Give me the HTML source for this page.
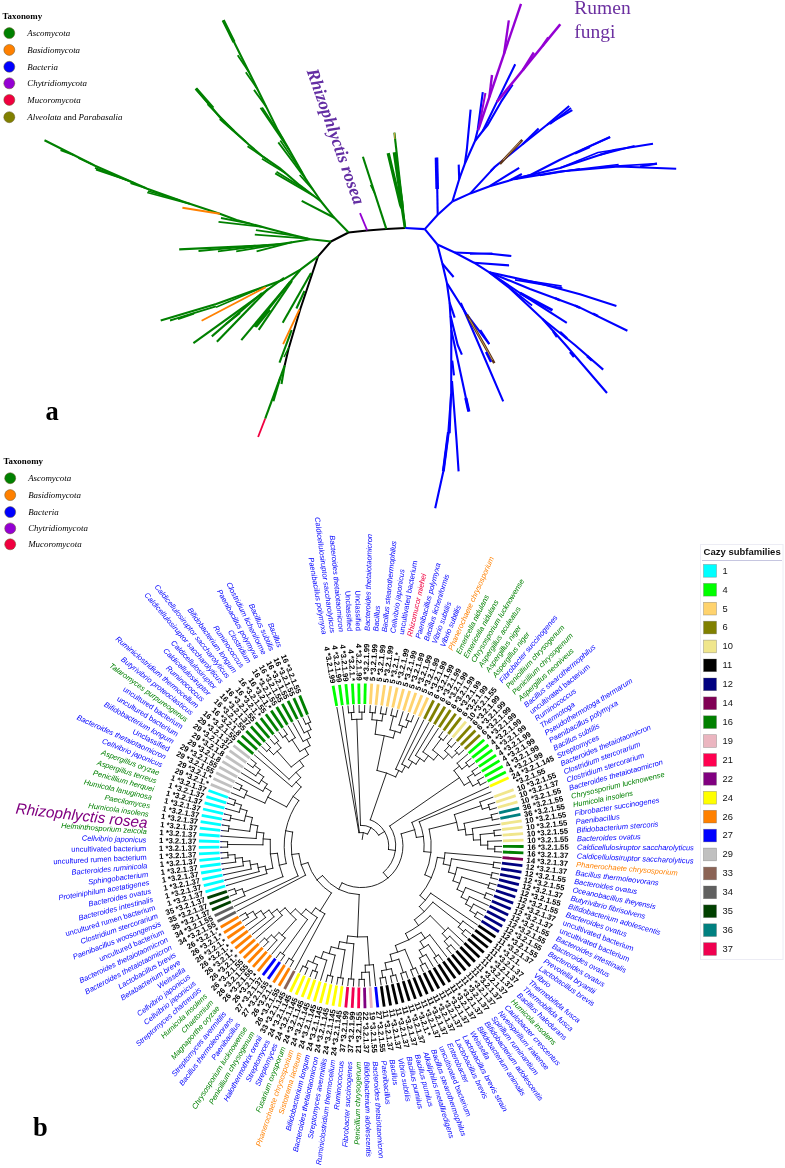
<!DOCTYPE html>
<html><head><meta charset="utf-8"><title>Phylogenetic trees</title>
<style>html,body{margin:0;padding:0;background:#fff}svg{display:block}</style>
</head><body>
<svg width="785" height="1168" viewBox="0 0 785 1168">
<rect width="785" height="1168" fill="#fff"/>
<g fill="none" stroke-linecap="butt" stroke-linejoin="round">
<path d="M284.6 365.7L288.5 349L300.4 308.8L318 256.4L331 241.5L348.5 232.5L367.2 230.4L386.3 228.9L405.3 228" stroke="#000000" stroke-width="2"/>
<path d="M367.2 230.4L360 213.1" stroke="#9400d3" stroke-width="1.8"/>
<path d="M386.3 228.9L362.9 156.8" stroke="#008000" stroke-width="2.1"/>
<path d="M375 194L370.5 185" stroke="#008000" stroke-width="1.5"/>
<path d="M405.1 228.1L394.4 132.7" stroke="#008000" stroke-width="2.1"/>
<path d="M401.8 208L400.6 204.9L388.2 153.2" stroke="#008000" stroke-width="3.3"/>
<path d="M402.2 208L401.5 201.3L394.4 152.3" stroke="#008000" stroke-width="3.5"/>
<path d="M405.1 228.1L401.8 207" stroke="#008000" stroke-width="2.7"/>
<path d="M394.9 139L394.4 132.7" stroke="#c8a040" stroke-width="1.2"/>
<path d="M348.4 232.3L334.3 217.8L321.1 201.5L305.8 179.1L288.5 148.5L277.8 130.1L223.2 20.2" stroke="#008000" stroke-width="2.1"/>
<path d="M234 42L223.2 20.2" stroke="#008000" stroke-width="3.2"/>
<path d="M237.7 55.3L248.9 72" stroke="#008000" stroke-width="1.8"/>
<path d="M245.8 72.2L257.4 89" stroke="#008000" stroke-width="1.8"/>
<path d="M254 89.9L266.3 107" stroke="#008000" stroke-width="1.8"/>
<path d="M260.5 107.8L289.3 150" stroke="#008000" stroke-width="1.8"/>
<path d="M262.1 107.4L283.6 140" stroke="#008000" stroke-width="1.8"/>
<path d="M278.3 142.4L307.1 181" stroke="#008000" stroke-width="1.8"/>
<path d="M280.3 140.4L301.8 172" stroke="#008000" stroke-width="1.8"/>
<path d="M299.7 175L313.2 190" stroke="#008000" stroke-width="1.8"/>
<path d="M301.7 200.9L334.3 217.8" stroke="#008000" stroke-width="2.1"/>
<path d="M321.1 201.5L299.7 185.2L279.3 167.9L263 156.7L248.7 144.5L222.2 120L195.9 88.5" stroke="#008000" stroke-width="2.1"/>
<path d="M213 108L195.9 88.5" stroke="#008000" stroke-width="3.2"/>
<path d="M275.2 173.4L313.9 196" stroke="#008000" stroke-width="1.8"/>
<path d="M276.5 171.8L306 190" stroke="#008000" stroke-width="1.8"/>
<path d="M262 158.8L285.3 173" stroke="#008000" stroke-width="1.8"/>
<path d="M247.5 146.2L267.8 160" stroke="#008000" stroke-width="1.8"/>
<path d="M207.5 104.2L234.1 131" stroke="#008000" stroke-width="1.8"/>
<path d="M219.7 119.1L246 142" stroke="#008000" stroke-width="1.8"/>
<path d="M331 241.5L310.6 239.2" stroke="#008000" stroke-width="2.1"/>
<path d="M310.6 239.2L293.6 235.2L268 228.5L236.5 219.9L219.8 213.7L182.9 201.4L147.2 188.7L95 165.8L44.5 140.3" stroke="#008000" stroke-width="2.1"/>
<path d="M95 167.8L135 183.3" stroke="#008000" stroke-width="1.8"/>
<path d="M96 169.6L128 180.3" stroke="#008000" stroke-width="1.8"/>
<path d="M147.2 192.5L190 203.8" stroke="#008000" stroke-width="1.8"/>
<path d="M148 191L180 200.4" stroke="#008000" stroke-width="1.8"/>
<path d="M60.5 150.2L74 155.2" stroke="#008000" stroke-width="1.8"/>
<path d="M78.4 158L92 164.3" stroke="#008000" stroke-width="1.8"/>
<path d="M130.5 183.2L146 188.2" stroke="#008000" stroke-width="1.8"/>
<path d="M182.4 207.8L219.8 213.7" stroke="#ff8000" stroke-width="2"/>
<path d="M218.5 221.8L262 226.9" stroke="#008000" stroke-width="1.8"/>
<path d="M221 218L250 223.6" stroke="#008000" stroke-width="1.8"/>
<path d="M255.9 230.1L296 235.8" stroke="#008000" stroke-width="1.8"/>
<path d="M254.8 234.6L308 238.6" stroke="#008000" stroke-width="1.8"/>
<path d="M310.6 239.2L292.3 242.2L280.1 244L267.8 245L255.6 245.7L179.2 249.4" stroke="#008000" stroke-width="2.1"/>
<path d="M255.6 245.7L198.5 251" stroke="#008000" stroke-width="1.8"/>
<path d="M267.8 245L217.9 251.4" stroke="#008000" stroke-width="1.8"/>
<path d="M280.1 244L236.2 251.4" stroke="#008000" stroke-width="1.8"/>
<path d="M292.3 242.2L256.6 251.4" stroke="#008000" stroke-width="1.8"/>
<path d="M318 256.4L300.4 269.7L282.5 279.9L262.1 287.5L216.2 304.1L160.7 320.6" stroke="#008000" stroke-width="2.1"/>
<path d="M215.9 306.4L179.2 317.6L170 320.5" stroke="#008000" stroke-width="2"/>
<path d="M216 307.2L262.1 287.5" stroke="#008000" stroke-width="1.6"/>
<path d="M194 313.5L178 319" stroke="#008000" stroke-width="2"/>
<path d="M201.6 320.7L265.8 287.1" stroke="#ff8000" stroke-width="1.8"/>
<path d="M284.1 277.9L193.4 343.1" stroke="#008000" stroke-width="2.1"/>
<path d="M262 293L211.8 336.4" stroke="#008000" stroke-width="2.1"/>
<path d="M268 289L216.9 341.7" stroke="#008000" stroke-width="2.1"/>
<path d="M240 313L226 324" stroke="#008000" stroke-width="2"/>
<path d="M300.4 269.7L241.3 340.1" stroke="#008000" stroke-width="2.1"/>
<path d="M290 282L254.6 326.8" stroke="#008000" stroke-width="2.1"/>
<path d="M292 281L258.7 329.9" stroke="#008000" stroke-width="2.1"/>
<path d="M270 310L256 327" stroke="#008000" stroke-width="2"/>
<path d="M311 273L282.7 322.7" stroke="#008000" stroke-width="2.1"/>
<path d="M304.5 291L296.4 308.5" stroke="#008000" stroke-width="2.1"/>
<path d="M283.1 344.1L299.4 309.5" stroke="#ff8000" stroke-width="1.8"/>
<path d="M284.6 365.7L265.2 418.7" stroke="#008000" stroke-width="2.1"/>
<path d="M265.2 418.7L258.1 437" stroke="#f00040" stroke-width="1.8"/>
<path d="M291.7 330L279.5 362.6" stroke="#008000" stroke-width="2.1"/>
<path d="M284.6 365.7L281.5 384" stroke="#008000" stroke-width="2.1"/>
<path d="M280.5 377L273.4 401.3" stroke="#008000" stroke-width="2.1"/>
<path d="M289 347L284 357" stroke="#008000" stroke-width="1.6"/>
<path d="M405.3 228L424.8 229.1" stroke="#0000ff" stroke-width="2.1"/>
<path d="M424.8 229.1L437.7 214.8L452.4 201.5" stroke="#0000ff" stroke-width="2.1"/>
<path d="M437.7 214.8L436.7 157.7" stroke="#0000ff" stroke-width="2.1"/>
<path d="M437.2 189L436.5 157.6" stroke="#0000ff" stroke-width="3.6"/>
<path d="M452.4 201.5L459.2 179.2L464.8 163.9L475 141L482.7 131L485.7 125L496.9 101.9L515.2 64.2" stroke="#0000ff" stroke-width="2.1"/>
<path d="M459.2 179.2L458.7 164.6" stroke="#0000ff" stroke-width="2.1"/>
<path d="M464.8 163.9L466.8 150L470.6 109.6" stroke="#0000ff" stroke-width="2.1"/>
<path d="M475 141L477.7 130L482.8 92.2" stroke="#0000ff" stroke-width="2.1"/>
<path d="M482.7 131L487.7 125L501 101.9L512.6 84.6" stroke="#0000ff" stroke-width="2.1"/>
<path d="M521 3.8L478.2 130" stroke="#9400d3" stroke-width="2.4"/>
<path d="M508.8 20.4L504 54" stroke="#9400d3" stroke-width="2.3"/>
<path d="M492 75L489.4 97" stroke="#9400d3" stroke-width="2.4"/>
<path d="M485.4 93L478.9 128" stroke="#9400d3" stroke-width="2"/>
<path d="M560.3 24.2L496.9 101.9" stroke="#9400d3" stroke-width="2.6"/>
<path d="M533.8 52.5L522.9 70" stroke="#9400d3" stroke-width="2.4"/>
<path d="M548.3 37.5L542.5 46" stroke="#9400d3" stroke-width="2.4"/>
<path d="M452.4 201.5L470.3 193.4L489.7 186.2L514.1 179.1L530.4 175" stroke="#0000ff" stroke-width="2.1"/>
<path d="M470.3 193.4L494.8 166.9L522.3 144.5L546.8 125L569.2 106" stroke="#0000ff" stroke-width="2.1"/>
<path d="M546.8 125L572.3 110.1" stroke="#0000ff" stroke-width="2"/>
<path d="M550 124L571 108" stroke="#0000ff" stroke-width="2"/>
<path d="M522.3 144.5L538.6 128.6" stroke="#0000ff" stroke-width="2.1"/>
<path d="M490.7 171L494.8 166.9" stroke="#0000ff" stroke-width="2"/>
<path d="M499.9 163.8L522.3 139.8" stroke="#5e3418" stroke-width="2.6"/>
<path d="M503 160.2L520.5 141.4" stroke="#d8b070" stroke-width="0.8"/>
<path d="M489.7 186.2L519.2 167.9" stroke="#0000ff" stroke-width="2.1"/>
<path d="M510 180.2L521.9 174" stroke="#0000ff" stroke-width="2.1"/>
<path d="M530.4 175L560 159.7L610 137" stroke="#0000ff" stroke-width="2.1"/>
<path d="M575 153.5L590 147" stroke="#0000ff" stroke-width="2.2"/>
<path d="M514.1 179.1L560 167.9L615.5 149.7L653 143.8" stroke="#0000ff" stroke-width="2.1"/>
<path d="M560 167.9L598 152.5L615.5 149.7" stroke="#0000ff" stroke-width="1.6"/>
<path d="M600 154.8L634.6 145.9" stroke="#0000ff" stroke-width="2"/>
<path d="M575 162.5L580 160.5" stroke="#0000ff" stroke-width="2.2"/>
<path d="M514.1 179.1L560 171.5L618.6 166.5L676.2 168.8" stroke="#0000ff" stroke-width="2.1"/>
<path d="M560 171.5L618.6 164.5" stroke="#0000ff" stroke-width="1.6"/>
<path d="M600 167L657 163.7" stroke="#0000ff" stroke-width="1.7"/>
<path d="M640 166.5L657 163.7" stroke="#0000ff" stroke-width="2.2"/>
<path d="M540 175.5L579.9 168.8" stroke="#0000ff" stroke-width="1.6"/>
<path d="M610.2 137.1L581.4 150" stroke="#0000ff" stroke-width="1.7"/>
<path d="M424.8 229.1L437.4 244.5" stroke="#0000ff" stroke-width="2.1"/>
<path d="M437.4 244.5L454.7 252.5L474 262.7L489.3 272.3" stroke="#0000ff" stroke-width="2.1"/>
<path d="M454.7 252.5L492.4 254L511.3 256" stroke="#0000ff" stroke-width="2.1"/>
<path d="M470 254L492.4 253.3" stroke="#0000ff" stroke-width="1.6"/>
<path d="M474 262.7L509.1 265.4" stroke="#0000ff" stroke-width="2.1"/>
<path d="M489.3 272.3L540 283.5L580 294.3L616.4 305.9" stroke="#0000ff" stroke-width="2.1"/>
<path d="M520 279.5L561.7 286.1" stroke="#0000ff" stroke-width="1.7"/>
<path d="M515 279.8L562.4 288" stroke="#0000ff" stroke-width="1.7"/>
<path d="M489.3 272.3L530 289L580 307.6L627.4 330.8" stroke="#0000ff" stroke-width="2.1"/>
<path d="M555 298L560 300.3" stroke="#0000ff" stroke-width="2.4"/>
<path d="M575 305.5L580 308" stroke="#0000ff" stroke-width="2.4"/>
<path d="M593 313.5L598 316" stroke="#0000ff" stroke-width="2.4"/>
<path d="M489.3 272.3L520 293L566.8 322.8" stroke="#0000ff" stroke-width="2.1"/>
<path d="M520 293L552.5 310.2" stroke="#0000ff" stroke-width="2.7"/>
<path d="M510 288L532.1 305.5" stroke="#0000ff" stroke-width="1.6"/>
<path d="M489.3 272.3L509.7 288.2L542.3 318.8L574.9 345L603.2 369.6" stroke="#0000ff" stroke-width="2.1"/>
<path d="M542.3 318.8L565.7 345L607 393" stroke="#0000ff" stroke-width="2.1"/>
<path d="M553 331L557 337" stroke="#0000ff" stroke-width="2.4"/>
<path d="M570 352L574 357" stroke="#0000ff" stroke-width="2.4"/>
<path d="M560 332L567 338.5" stroke="#0000ff" stroke-width="2.4"/>
<path d="M587 356L592 360.5" stroke="#0000ff" stroke-width="2.4"/>
<path d="M437.4 244.5L442.4 263.7L446.9 283.1L449.6 302.5L451.3 330L451.2 393.7L448.4 431.9L443.3 471.4L435.2 508.3" stroke="#0000ff" stroke-width="2.1"/>
<path d="M442.4 263.7L453.6 277" stroke="#0000ff" stroke-width="2.1"/>
<path d="M446.9 283.1L466.9 314.7L489.3 344.2" stroke="#0000ff" stroke-width="2.1"/>
<path d="M460.8 303L472.6 330L503.2 401.3" stroke="#0000ff" stroke-width="2.1"/>
<path d="M466.9 314.7L484.2 345L494.3 363.1" stroke="#5e3418" stroke-width="2.6"/>
<path d="M469 318.5L484.2 345L492.5 360" stroke="#d8b070" stroke-width="0.8"/>
<path d="M480.3 330L489.2 344" stroke="#0000ff" stroke-width="2.1"/>
<path d="M486 352L491 362" stroke="#0000ff" stroke-width="2.4"/>
<path d="M449.6 302.5L454.7 317.7" stroke="#0000ff" stroke-width="2.1"/>
<path d="M450.6 316L457.7 345L461.9 354.7" stroke="#0000ff" stroke-width="2.1"/>
<path d="M451.3 330L468.8 411.5" stroke="#0000ff" stroke-width="2.1"/>
<path d="M465.8 398L468.8 411.5" stroke="#0000ff" stroke-width="3.2"/>
<path d="M452.2 360.6L454 375.4" stroke="#0000ff" stroke-width="2.1"/>
<path d="M452 381L456.5 440L458.6 471.4" stroke="#0000ff" stroke-width="2.1"/>
<path d="M451 393.7L449.7 433.2" stroke="#0000ff" stroke-width="2"/>
<path d="M448.4 431.9L443.3 471.4" stroke="#0000ff" stroke-width="2.9"/>
</g>
<g font-family="'Liberation Serif','Times New Roman',serif">
<text x="574.3" y="13.8" font-size="19.5" fill="#6b2fa0">Rumen</text>
<text x="574.3" y="37.8" font-size="19.5" fill="#6b2fa0">fungi</text>
<text transform="translate(306.5,71) rotate(70.5)" font-size="17.8" font-weight="bold" font-style="italic" fill="#632ea3">Rhizophlyctis rosea</text>
<text x="45.5" y="420" font-size="26.5" font-weight="bold" fill="#000">a</text>
<text x="33" y="1135.6" font-size="26.5" font-weight="bold" fill="#000">b</text>
<text x="2.5" y="19" font-size="8.9" font-weight="bold" fill="#000">Taxonomy</text>
<circle cx="9.3" cy="33.1" r="5.5" fill="#008000" stroke="#6b5a2a" stroke-width="0.5"/>
<text x="27.3" y="35.8" font-size="8.9" font-style="italic" fill="#000">Ascomycota</text>
<circle cx="9.3" cy="49.9" r="5.5" fill="#ff8000" stroke="#6b5a2a" stroke-width="0.5"/>
<text x="27.3" y="52.6" font-size="8.9" font-style="italic" fill="#000">Basidiomycota</text>
<circle cx="9.3" cy="66.8" r="5.5" fill="#0000ff" stroke="#6b5a2a" stroke-width="0.5"/>
<text x="27.3" y="69.5" font-size="8.9" font-style="italic" fill="#000">Bacteria</text>
<circle cx="9.3" cy="83.3" r="5.5" fill="#9400d3" stroke="#6b5a2a" stroke-width="0.5"/>
<text x="27.3" y="86" font-size="8.9" font-style="italic" fill="#000">Chytridiomycota</text>
<circle cx="9.3" cy="99.9" r="5.5" fill="#f00040" stroke="#6b5a2a" stroke-width="0.5"/>
<text x="27.3" y="102.6" font-size="8.9" font-style="italic" fill="#000">Mucoromycota</text>
<circle cx="9.3" cy="117.2" r="5.5" fill="#808000" stroke="#6b5a2a" stroke-width="0.5"/>
<text x="27.3" y="119.9" font-size="8.9" font-style="italic" fill="#000">Alveolata<tspan font-style="normal"> and </tspan>Parabasalia</text>
<text x="3.4" y="464.2" font-size="8.9" font-weight="bold" fill="#000">Taxonomy</text>
<circle cx="10.2" cy="478.2" r="5.5" fill="#008000" stroke="#6b5a2a" stroke-width="0.5"/>
<text x="28.2" y="480.9" font-size="8.9" font-style="italic" fill="#000">Ascomycota</text>
<circle cx="10.2" cy="495.1" r="5.5" fill="#ff8000" stroke="#6b5a2a" stroke-width="0.5"/>
<text x="28.2" y="497.8" font-size="8.9" font-style="italic" fill="#000">Basidiomycota</text>
<circle cx="10.2" cy="512.1" r="5.5" fill="#0000ff" stroke="#6b5a2a" stroke-width="0.5"/>
<text x="28.2" y="514.8" font-size="8.9" font-style="italic" fill="#000">Bacteria</text>
<circle cx="10.2" cy="528.4" r="5.5" fill="#9400d3" stroke="#6b5a2a" stroke-width="0.5"/>
<text x="28.2" y="531.1" font-size="8.9" font-style="italic" fill="#000">Chytridiomycota</text>
<circle cx="10.2" cy="544.3" r="5.5" fill="#f00040" stroke="#6b5a2a" stroke-width="0.5"/>
<text x="28.2" y="547" font-size="8.9" font-style="italic" fill="#000">Mucoromycota</text>
</g>
<path d="M348.6 712.8A133.6 133.6 0 0 1 353.9 712.4M348 706L348.6 712.8M353.6 705.6L353.9 712.4M359.2 712.2A133.6 133.6 0 0 1 364.5 712.2M359.1 705.4L359.2 712.2M364.7 705.4L364.5 712.2M351.8 719.6A126.6 126.6 0 0 1 361.9 719.2M351.3 712.5L351.8 719.6M361.9 712.2L361.9 719.2M369.9 712.5A133.6 133.6 0 0 1 375.1 712.9M370.3 705.7L369.9 712.5M375.9 706.2L375.1 712.9M380.4 713.6A133.6 133.6 0 0 1 385.7 714.4M381.4 706.9L380.4 713.6M386.9 707.8L385.7 714.4M371.9 719.7A126.6 126.6 0 0 1 381.9 720.9M372.5 712.6L371.9 719.7M383 714L381.9 720.9M390.9 715.5A133.6 133.6 0 0 1 396 716.8M392.4 708.9L390.9 715.5M397.8 710.2L396 716.8M406.1 720A133.6 133.6 0 0 1 411.1 721.8M408.4 713.6L406.1 720M413.6 715.6L411.1 721.8M399 725A126.6 126.6 0 0 1 406.1 727.5M403.1 711.8L399 725M408.6 720.9L406.1 727.5M390 729.8A119.5 119.5 0 0 1 400.3 732.9M393.4 716.1L390 729.8M402.6 726.2L400.3 732.9M375.2 734.2A112.4 112.4 0 0 1 393.2 738M376.9 720.2L375.2 734.2M395.2 731.2L393.2 738M439 737.1A133.6 133.6 0 0 1 443.2 740.3M442.9 731.6L439 737.1M447.4 735L443.2 740.3M447.4 743.7A133.6 133.6 0 0 1 451.4 747.2M451.7 738.5L447.4 743.7M455.9 742.2L451.4 747.2M455.2 750.8A133.6 133.6 0 0 1 458.9 754.6M460 746L455.2 750.8M463.9 750L458.9 754.6M444.7 750.7A126.6 126.6 0 0 1 452 757.6M449.4 745.4L444.7 750.7M457.1 752.7L452 757.6M432.7 750A119.5 119.5 0 0 1 443.6 759.2M441.1 738.7L432.7 750M448.4 754.1L443.6 759.2M423 751.9A112.4 112.4 0 0 1 433.7 759.9M438.3 728.5L423 751.9M438.2 754.5L433.7 759.9M415.5 755.5A105.3 105.3 0 0 1 424.2 761.4M433.6 725.5L415.5 755.5M428.4 755.7L424.2 761.4M408.5 759.6A98.3 98.3 0 0 1 416 764.2M428.8 722.7L408.5 759.6M419.9 758.3L416 764.2M401.9 764.2A91.2 91.2 0 0 1 408.6 767.9M423.8 720.1L401.9 764.2M412.3 761.8L408.6 767.9M395.7 769.1A84.1 84.1 0 0 1 401.9 772.1M418.8 717.7L395.7 769.1M405.3 766L401.9 772.1M377 770.4A77.1 77.1 0 0 1 395.7 776.9M384.2 735.8L377 770.4M398.8 770.5L395.7 776.9M465.8 762.7A133.6 133.6 0 0 1 469.1 766.9M471.1 758.5L465.8 762.7M474.5 762.9L469.1 766.9M457.1 763.2A126.6 126.6 0 0 1 461.8 769.1M467.6 754.2L457.1 763.2M467.5 764.8L461.8 769.1M472.1 771.3A133.6 133.6 0 0 1 475 775.7M477.7 767.5L472.1 771.3M480.7 772.2L475 775.7M477.7 780.3A133.6 133.6 0 0 1 480.2 785M483.6 777L477.7 780.3M486.2 781.9L480.2 785M467.6 777.3A126.6 126.6 0 0 1 472.7 786M473.6 773.5L467.6 777.3M479 782.6L472.7 786M454 770.5A119.5 119.5 0 0 1 464.2 785.2M459.5 766.1L454 770.5M470.3 781.6L464.2 785.2M488.3 804.6A133.6 133.6 0 0 1 489.9 809.7M494.8 802.5L488.3 804.6M496.4 807.8L489.9 809.7M479.9 802A126.6 126.6 0 0 1 482.3 809.2M492.9 797.2L479.9 802M489.1 807.1L482.3 809.2M491.2 814.8A133.6 133.6 0 0 1 492.3 820M497.8 813.2L491.2 814.8M499 818.7L492.3 820M493.9 830.5A133.6 133.6 0 0 1 494.5 835.8M500.7 829.7L493.9 830.5M501.2 835.3L494.5 835.8M494.8 846.4A133.6 133.6 0 0 1 494.7 851.7M501.6 846.4L494.8 846.4M501.5 852L494.7 851.7M487.7 841.3A126.6 126.6 0 0 1 487.7 848.9M501.5 840.8L487.7 841.3M494.8 849L487.7 848.9M480.2 834.5A119.5 119.5 0 0 1 480.7 845.1M494.2 833.1L480.2 834.5M487.8 845.1L480.7 845.1M472.3 828.5A112.4 112.4 0 0 1 473.5 840.1M499.9 824.2L472.3 828.5M480.5 839.8L473.5 840.1M464.1 823.4A105.3 105.3 0 0 1 466 835M491.8 817.4L464.1 823.4M473 834.3L466 835M454.4 814.6A98.3 98.3 0 0 1 458.3 830.3M481.2 805.6L454.4 814.6M465.2 829.2L458.3 830.3M493.8 862.2A133.6 133.6 0 0 1 493.1 867.4M500.5 863L493.8 862.2M499.7 868.5L493.1 867.4M492.1 872.6A133.6 133.6 0 0 1 490.9 877.8M498.7 874L492.1 872.6M497.5 879.4L490.9 877.8M489.6 882.9A133.6 133.6 0 0 1 488 887.9M496.1 884.8L489.6 882.9M494.4 890.1L488 887.9M486.2 892.9A133.6 133.6 0 0 1 484.3 897.8M492.6 895.3L486.2 892.9M490.5 900.5L484.3 897.8M477.3 912A133.6 133.6 0 0 1 474.5 916.6M483.1 915.4L477.3 912M480.3 920.2L474.5 916.6M473.5 904.1A126.6 126.6 0 0 1 469.9 910.7M485.8 910.5L473.5 904.1M475.9 914.3L469.9 910.7M469.3 896.6A119.5 119.5 0 0 1 465.6 904M488.3 905.5L469.3 896.6M471.7 907.4L465.6 904M465.6 887.5A112.4 112.4 0 0 1 461.2 897.1M485.3 895.4L465.6 887.5M467.5 900.4L461.2 897.1M461.8 877A105.3 105.3 0 0 1 457.1 889.4M488.8 885.4L461.8 877M463.5 892.4L457.1 889.4M457.1 867.4A98.3 98.3 0 0 1 453 880.8M491.6 875.2L457.1 867.4M459.6 883.3L453 880.8M451.5 858.8A91.2 91.2 0 0 1 448.5 872.1M493.5 864.8L451.5 858.8M455.3 874.2L448.5 872.1M445 852.8A84.1 84.1 0 0 1 443.3 864M501.1 857.5L445 852.8M450.3 865.5L443.3 864M465.4 929.5A133.6 133.6 0 0 1 462 933.6M470.6 933.7L465.4 929.5M467.1 938L462 933.6M462.9 921.1A126.6 126.6 0 0 1 458.3 927M474 929.3L462.9 921.1M463.7 931.5L458.3 927M450.9 944.9A133.6 133.6 0 0 1 446.9 948.3M455.4 949.9L450.9 944.9M451.2 953.5L446.9 948.3M449.8 936.2A126.6 126.6 0 0 1 444.3 941.3M459.5 946.1L449.8 936.2M448.9 946.6L444.3 941.3M448.1 927.8A119.5 119.5 0 0 1 442.3 933.6M463.4 942.1L448.1 927.8M447.1 938.8L442.3 933.6M438.5 954.8A133.6 133.6 0 0 1 434.1 957.8M442.4 960.3L438.5 954.8M437.8 963.4L434.1 957.8M425.1 963.2A133.6 133.6 0 0 1 420.4 965.6M428.3 969.1L425.1 963.2M423.4 971.7L420.4 965.6M426 954.5A126.6 126.6 0 0 1 419.5 958.1M433.1 966.4L426 954.5M422.7 964.4L419.5 958.1M428.4 944.6A119.5 119.5 0 0 1 419.3 950.2M436.3 956.3L428.4 944.6M422.8 956.4L419.3 950.2M429.8 934.8A112.4 112.4 0 0 1 420.2 941.5M446.9 957L429.8 934.8M423.9 947.5L420.2 941.5M415.6 967.9A133.6 133.6 0 0 1 410.7 969.9M418.3 974L415.6 967.9M413.2 976.2L410.7 969.9M405.8 971.8A133.6 133.6 0 0 1 400.8 973.4M408 978.2L405.8 971.8M402.8 979.9L400.8 973.4M395.7 974.9A133.6 133.6 0 0 1 390.5 976.2M397.4 981.4L395.7 974.9M392 982.8L390.5 976.2M385.4 977.2A133.6 133.6 0 0 1 380.1 978.1M386.6 983.9L385.4 977.2M381.1 984.8L380.1 978.1M391.4 968.7A126.6 126.6 0 0 1 381.6 970.7M393.1 975.6L391.4 968.7M382.8 977.7L381.6 970.7M398.8 959.2A119.5 119.5 0 0 1 385.1 962.9M403.3 972.6L398.8 959.2M386.5 969.8L385.1 962.9M404.9 949.4A112.4 112.4 0 0 1 390.2 954.4M413.2 968.9L404.9 949.4M392 961.2L390.2 954.4M421.1 932.5A105.3 105.3 0 0 1 395.4 945.5M425.1 938.3L421.1 932.5M397.6 952.1L395.4 945.5M430.3 915.7A98.3 98.3 0 0 1 405.5 933.5M445.2 930.7L430.3 915.7M408.7 939.9L405.5 933.5M432.9 902.2A91.2 91.2 0 0 1 414.5 919.8M460.6 924.1L432.9 902.2M418.6 925.6L414.5 919.8M430.7 893.2A84.1 84.1 0 0 1 419.4 906.6M477.3 924.8L430.7 893.2M424.3 911.7L419.4 906.6M437.4 857.4A77.1 77.1 0 0 1 420 895.6M444.4 858.4L437.4 857.4M425.4 900.2L420 895.6M429.2 829.1A70 70 0 0 1 424.9 874.8M456.6 822.3L429.2 829.1M431.4 877.7L424.9 874.8M419.3 821.7A62.9 62.9 0 0 1 423.9 851.6M490.9 792L419.3 821.7M430.9 852.3L423.9 851.6M411.9 822.4A55.9 55.9 0 0 1 416.4 837.4M488.7 786.9L411.9 822.4M423.4 836.4L416.4 837.4M364.3 979.4A133.6 133.6 0 0 1 359.1 979.4M364.5 986.2L364.3 979.4M358.9 986.2L359.1 979.4M369.2 972.1A126.6 126.6 0 0 1 361.7 972.4M370.1 985.9L369.2 972.1M361.7 979.4L361.7 972.4M373.4 964.7A119.5 119.5 0 0 1 365.2 965.2M375.6 985.5L373.4 964.7M365.4 972.3L365.2 965.2M353.8 979.2A133.6 133.6 0 0 1 348.5 978.8M353.4 986L353.8 979.2M347.8 985.6L348.5 978.8M343.2 978.2A133.6 133.6 0 0 1 338 977.4M342.3 984.9L343.2 978.2M336.8 984.1L338 977.4M332.8 976.4A133.6 133.6 0 0 1 327.7 975.2M331.4 983L332.8 976.4M326 981.7L327.7 975.2M317.5 972.1A133.6 133.6 0 0 1 312.6 970.3M315.3 978.5L317.5 972.1M310.1 976.6L312.6 970.3M307.7 968.2A133.6 133.6 0 0 1 302.9 966M305 974.4L307.7 968.2M299.9 972.1L302.9 966M317.5 964.6A126.6 126.6 0 0 1 308.2 960.7M315 971.2L317.5 964.6M305.3 967.2L308.2 960.7M326.7 960.2A119.5 119.5 0 0 1 315.5 956.2M320.6 980.2L326.7 960.2M312.8 962.7L315.5 956.2M335.1 955.2A112.4 112.4 0 0 1 323.4 951.7M330.2 975.8L335.1 955.2M321 958.3L323.4 951.7M345 949.9A105.3 105.3 0 0 1 331.2 946.8M340.6 977.8L345 949.9M329.2 953.6L331.2 946.8M353.8 943.8A98.3 98.3 0 0 1 339.6 941.7M351.1 979L353.8 943.8M338.1 948.6L339.6 941.7M367.4 936.8A91.2 91.2 0 0 1 347.7 936M369.3 965L367.4 936.8M346.7 943L347.7 936M293.5 961A133.6 133.6 0 0 1 289 958.3M290.1 966.9L293.5 961M285.4 964L289 958.3M284.6 955.3A133.6 133.6 0 0 1 280.3 952.2M280.7 960.9L284.6 955.3M276.3 957.6L280.3 952.2M268.3 941.9A133.6 133.6 0 0 1 264.6 938.1M263.6 946.7L268.3 941.9M259.7 942.8L264.6 938.1M276.9 940.2A126.6 126.6 0 0 1 271.4 935M267.7 950.5L276.9 940.2M266.4 940L271.4 935M285.2 938A119.5 119.5 0 0 1 279 932.5M271.9 954.1L285.2 938M274.1 937.6L279 932.5M248.3 917.3A133.6 133.6 0 0 1 245.6 912.8M242.6 920.9L248.3 917.3M239.7 916.2L245.6 912.8M257 917.7A126.6 126.6 0 0 1 253 911.4M245.6 925.5L257 917.7M246.9 915L253 911.4M265.6 917.5A119.5 119.5 0 0 1 260.9 910.7M248.9 930.1L265.6 917.5M254.9 914.6L260.9 910.7M274 916.8A112.4 112.4 0 0 1 269 910.1M252.3 934.4L274 916.8M263.2 914.2L269 910.1M282.2 915.5A105.3 105.3 0 0 1 277.1 909.2M255.9 938.7L282.2 915.5M271.4 913.5L277.1 909.2M296.1 919.4A98.3 98.3 0 0 1 285.1 907.9M282 935.3L296.1 919.4M279.6 912.4L285.1 907.9M307.5 919.5A91.2 91.2 0 0 1 295.4 909M282.5 953.8L307.5 919.5M290.3 913.9L295.4 909M317.2 917.5A84.1 84.1 0 0 1 305.9 909.2M291.3 959.7L317.2 917.5M301.2 914.5L305.9 909.2M324.8 913.8A77.1 77.1 0 0 1 315.5 907.9M295 969.6L324.8 913.8M311.3 913.6L315.5 907.9M236.4 893.7A133.6 133.6 0 0 1 234.6 888.7M230.1 896.1L236.4 893.7M228.2 890.9L234.6 888.7M244.9 895.8A126.6 126.6 0 0 1 242.2 888.8M232.2 901.3L244.9 895.8M235.5 891.2L242.2 888.8M228.1 857.7A133.6 133.6 0 0 1 227.7 852.4M221.4 858.3L228.1 857.7M221 852.8L227.7 852.4M235.7 862.1A126.6 126.6 0 0 1 234.9 854.6M222 863.8L235.7 862.1M227.9 855.1L234.9 854.6M243.4 865.8A119.5 119.5 0 0 1 242.3 857.6M222.8 869.3L243.4 865.8M235.3 858.3L242.3 857.6M251.2 869A112.4 112.4 0 0 1 249.8 860.8M223.8 874.8L251.2 869M242.8 861.7L249.8 860.8M259.1 871.6A105.3 105.3 0 0 1 257.4 863.7M225.1 880.2L259.1 871.6M250.4 864.9L257.4 863.7M266.9 873.6A98.3 98.3 0 0 1 265.1 866.2M226.6 885.6L266.9 873.6M258.1 867.7L265.1 866.2M227.6 847.1A133.6 133.6 0 0 1 227.6 841.8M220.8 847.2L227.6 847.1M220.9 841.6L227.6 841.8M228.4 831.2A133.6 133.6 0 0 1 229 826M221.6 830.5L228.4 831.2M222.4 825L229 826M229.9 820.7A133.6 133.6 0 0 1 231 815.5M223.3 819.5L229.9 820.7M224.4 814L231 815.5M233.9 805.3A133.6 133.6 0 0 1 235.6 800.3M227.4 803.2L233.9 805.3M229.2 798L235.6 800.3M239.2 812.3A126.6 126.6 0 0 1 241.4 805.1M225.8 808.6L239.2 812.3M234.7 802.8L241.4 805.1M244.3 821.1A119.5 119.5 0 0 1 247 810.7M230.5 818.1L244.3 821.1M240.2 808.6L247 810.7M249.7 831.3A112.4 112.4 0 0 1 252.4 817.6M228.7 828.6L249.7 831.3M245.5 815.9L252.4 817.6M256.1 838.5A105.3 105.3 0 0 1 257.8 825.8M221.1 836.1L256.1 838.5M250.8 824.4L257.8 825.8M262.9 844.8A98.3 98.3 0 0 1 263.8 833M227.6 844.5L262.9 844.8M256.7 832.1L263.8 833M272.8 868.2A91.2 91.2 0 0 1 270.2 839.4M265.9 869.9L272.8 868.2M263.2 838.9L270.2 839.4M282.9 876.7A84.1 84.1 0 0 1 277.4 853.3M243.5 892.3L282.9 876.7M270.4 853.9L277.4 853.3M239.6 790.4A133.6 133.6 0 0 1 241.9 785.6M233.4 787.6L239.6 790.4M235.8 782.6L241.9 785.6M244 798A126.6 126.6 0 0 1 247.1 791.1M231.2 792.8L244 798M240.7 788L247.1 791.1M252.9 767.5A133.6 133.6 0 0 1 256.1 763.3M247.4 763.5L252.9 767.5M250.8 759.1L256.1 763.3M255.8 775.8A126.6 126.6 0 0 1 260.1 769.6M244.2 768.1L255.8 775.8M254.5 765.4L260.1 769.6M259.1 783.7A119.5 119.5 0 0 1 263.7 776.8M241.2 772.8L259.1 783.7M257.9 772.7L263.7 776.8M262.9 791.2A112.4 112.4 0 0 1 267.2 784.1M238.4 777.7L262.9 791.2M261.3 780.2L267.2 784.1M264.9 803.1A105.3 105.3 0 0 1 271.1 791.3M245.5 794.5L264.9 803.1M265 787.6L271.1 791.3M266.7 751.4A133.6 133.6 0 0 1 270.5 747.7M261.9 746.6L266.7 751.4M265.9 742.7L270.5 747.7M274.5 744.1A133.6 133.6 0 0 1 278.6 740.8M270.1 739L274.5 744.1M274.4 735.5L278.6 740.8M273.5 754.6A126.6 126.6 0 0 1 281 747.9M268.6 749.5L273.5 754.6M276.5 742.4L281 747.9M282.8 737.6A133.6 133.6 0 0 1 287.2 734.5M278.8 732.1L282.8 737.6M283.4 728.9L287.2 734.5M289 741.8A126.6 126.6 0 0 1 295.3 737.7M285 736L289 741.8M288.1 725.9L295.3 737.7M305.7 724.2A133.6 133.6 0 0 1 310.6 722.1M302.9 718.1L305.7 724.2M308 715.9L310.6 722.1M304.1 732.8A126.6 126.6 0 0 1 311 729.6M297.9 720.5L304.1 732.8M308.2 723.2L311 729.6M303.1 741.4A119.5 119.5 0 0 1 310.5 737.6M293 723.1L303.1 741.4M307.5 731.2L310.5 737.6M299.9 751.6A112.4 112.4 0 0 1 310 745.7M292.1 739.7L299.9 751.6M306.8 739.4L310 745.7M291.2 767A105.3 105.3 0 0 1 308.4 754.6M277.2 751.2L291.2 767M304.9 748.5L308.4 754.6M289 779.2A98.3 98.3 0 0 1 303.6 766.1M258 750.6L289 779.2M299.5 760.4L303.6 766.1M291.8 786.7A91.2 91.2 0 0 1 300.7 777.6M254.3 754.8L291.8 786.7M296 772.3L300.7 777.6M286.6 806.9A84.1 84.1 0 0 1 301.1 786.9M267.8 797.1L286.6 806.9M296.1 782L301.1 786.9M286.2 863.6A77.1 77.1 0 0 1 298.8 800.5M279.3 865.2L286.2 863.6M293.1 796.4L298.8 800.5M298 876A70 70 0 0 1 292.6 832.1M234.5 906.3L298 876M285.6 830.7L292.6 832.1M305.5 875.2A62.9 62.9 0 0 1 298.8 853.6M237 911.3L305.5 875.2M291.7 854.5L298.8 853.6M331.4 893A55.9 55.9 0 0 1 307.9 862.6M320.1 911L331.4 893M301.2 864.7L307.9 862.6M359.2 894.6A48.8 48.8 0 0 1 322.5 875.6M357.5 936.9L359.2 894.6M316.9 879.9L322.5 875.6M401.2 833.8A41.7 41.7 0 0 1 342 882.9M414.7 829.7L401.2 833.8M338.8 889.1L342 882.9M389.7 826A34.6 34.6 0 0 1 383.3 872.5M459.4 777.7L389.7 826M387.8 877.9L383.3 872.5M370.3 819.8A27.6 27.6 0 0 1 388.5 849.5M386.5 773L370.3 819.8M395.5 850.5L388.5 849.5M360.5 825.3A20.5 20.5 0 0 1 378.7 835.1M356.8 719.3L360.5 825.3M384.7 831.4L378.7 835.1M358.9 832.6A13.4 13.4 0 0 1 367.6 834M336.9 707.5L358.9 832.6M342.5 706.7L359.4 832.5M370.9 827.7L367.6 834M363.3 832.5L362.2 839.4" fill="none" stroke="#000" stroke-width="0.85" stroke-linecap="square"/>
<path d="M227.7 885.2L225.8 885.8" stroke="#2020a0" stroke-width="0.8"/>
<path d="M226.2 879.9L224.3 880.4" stroke="#2020a0" stroke-width="0.8"/>
<path d="M225 874.5L223 875" stroke="#2020a0" stroke-width="0.8"/>
<path d="M224 869.1L222 869.5" stroke="#2020a0" stroke-width="0.8"/>
<path d="M223.2 863.7L221.2 863.9" stroke="#2020a0" stroke-width="0.8"/>
<path d="M222.6 858.2L220.6 858.4" stroke="#2020a0" stroke-width="0.8"/>
<path d="M222.2 852.7L220.2 852.8" stroke="#2020a0" stroke-width="0.8"/>
<path d="M222 847.2L220 847.2" stroke="#2020a0" stroke-width="0.8"/>
<path d="M222.1 841.7L220.1 841.6" stroke="#2020a0" stroke-width="0.8"/>
<path d="M222.3 836.1L220.3 836" stroke="#2020a0" stroke-width="0.8"/>
<path d="M222.8 830.6L220.8 830.4" stroke="#2020a0" stroke-width="0.8"/>
<path d="M223.5 825.1L221.6 824.8" stroke="#2020a0" stroke-width="0.8"/>
<path d="M224.5 819.7L222.5 819.3" stroke="#2020a0" stroke-width="0.8"/>
<path d="M225.6 814.3L223.7 813.8" stroke="#2020a0" stroke-width="0.8"/>
<path d="M227 808.9L225 808.4" stroke="#2020a0" stroke-width="0.8"/>
<path d="M228.5 803.6L226.6 803" stroke="#2020a0" stroke-width="0.8"/>
<path d="M230.3 798.4L228.4 797.7" stroke="#2020a0" stroke-width="0.8"/>
<path d="M336.7 706.1L333.1 685.8" stroke="#00ff00" stroke-width="2.8"/>
<path d="M342.3 705.3L339.5 684.9" stroke="#00ff00" stroke-width="2.8"/>
<path d="M347.9 704.6L345.9 684.1" stroke="#00ff00" stroke-width="2.8"/>
<path d="M353.5 704.2L352.4 683.6" stroke="#00ff00" stroke-width="2.8"/>
<path d="M359.1 704L358.8 683.4" stroke="#00ff00" stroke-width="2.8"/>
<path d="M364.8 704L365.3 683.5" stroke="#00ff00" stroke-width="2.8"/>
<path d="M370.4 704.3L371.7 683.7" stroke="#ffd36e" stroke-width="2.8"/>
<path d="M376 704.8L378.1 684.3" stroke="#ffd36e" stroke-width="2.8"/>
<path d="M381.6 705.5L384.6 685.1" stroke="#ffd36e" stroke-width="2.8"/>
<path d="M387.2 706.4L390.9 686.1" stroke="#ffd36e" stroke-width="2.8"/>
<path d="M392.7 707.5L397.2 687.5" stroke="#ffd36e" stroke-width="2.8"/>
<path d="M398.1 708.9L403.5 689" stroke="#ffd36e" stroke-width="2.8"/>
<path d="M403.6 710.5L409.7 690.8" stroke="#ffd36e" stroke-width="2.8"/>
<path d="M408.9 712.3L415.8 692.9" stroke="#ffd36e" stroke-width="2.8"/>
<path d="M414.2 714.3L421.9 695.2" stroke="#ffd36e" stroke-width="2.8"/>
<path d="M419.3 716.5L427.8 697.7" stroke="#ffd36e" stroke-width="2.8"/>
<path d="M424.4 718.9L433.6 700.4" stroke="#808000" stroke-width="2.8"/>
<path d="M429.4 721.5L439.3 703.4" stroke="#808000" stroke-width="2.8"/>
<path d="M434.3 724.3L444.9 706.7" stroke="#808000" stroke-width="2.8"/>
<path d="M439.1 727.3L450.4 710.1" stroke="#808000" stroke-width="2.8"/>
<path d="M443.7 730.5L455.7 713.7" stroke="#808000" stroke-width="2.8"/>
<path d="M448.3 733.9L460.9 717.6" stroke="#808000" stroke-width="2.8"/>
<path d="M452.6 737.4L465.9 721.7" stroke="#f0e68c" stroke-width="2.8"/>
<path d="M456.9 741.1L470.8 725.9" stroke="#808000" stroke-width="2.8"/>
<path d="M460.9 745L475.4 730.4" stroke="#808000" stroke-width="2.8"/>
<path d="M464.9 749.1L479.9 735" stroke="#808000" stroke-width="2.8"/>
<path d="M468.6 753.3L484.2 739.8" stroke="#00ff00" stroke-width="2.8"/>
<path d="M472.2 757.6L488.4 744.8" stroke="#00ff00" stroke-width="2.8"/>
<path d="M475.6 762.1L492.3 749.9" stroke="#00ff00" stroke-width="2.8"/>
<path d="M478.9 766.7L496 755.2" stroke="#00ff00" stroke-width="2.8"/>
<path d="M481.9 771.4L499.5 760.6" stroke="#00ff00" stroke-width="2.8"/>
<path d="M484.8 776.3L502.7 766.2" stroke="#00ff00" stroke-width="2.8"/>
<path d="M487.5 781.3L505.8 771.9" stroke="#00ff00" stroke-width="2.8"/>
<path d="M489.9 786.3L508.6 777.7" stroke="#ffff00" stroke-width="2.8"/>
<path d="M494.2 796.7L513.6 789.6" stroke="#f0e68c" stroke-width="2.8"/>
<path d="M496.1 802.1L515.7 795.7" stroke="#f0e68c" stroke-width="2.8"/>
<path d="M497.7 807.5L517.5 801.9" stroke="#f0e68c" stroke-width="2.8"/>
<path d="M499.1 812.9L519.2 808.1" stroke="#008080" stroke-width="2.8"/>
<path d="M500.3 818.4L520.5 814.4" stroke="#008080" stroke-width="2.8"/>
<path d="M501.3 824L521.7 820.8" stroke="#f0e68c" stroke-width="2.8"/>
<path d="M502.1 829.5L522.5 827.2" stroke="#f0e68c" stroke-width="2.8"/>
<path d="M502.6 835.2L523.1 833.6" stroke="#f0e68c" stroke-width="2.8"/>
<path d="M502.9 840.8L523.5 840.1" stroke="#f0e68c" stroke-width="2.8"/>
<path d="M503 846.4L523.6 846.5" stroke="#008000" stroke-width="2.8"/>
<path d="M502.9 852L523.4 852.9" stroke="#008000" stroke-width="2.8"/>
<path d="M502.5 857.6L523 859.3" stroke="#800055" stroke-width="2.8"/>
<path d="M501.9 863.2L522.4 865.7" stroke="#000080" stroke-width="2.8"/>
<path d="M501.1 868.8L521.5 872.1" stroke="#000080" stroke-width="2.8"/>
<path d="M500.1 874.3L520.3 878.4" stroke="#000080" stroke-width="2.8"/>
<path d="M498.9 879.7L518.9 884.7" stroke="#000080" stroke-width="2.8"/>
<path d="M497.4 885.2L517.2 890.9" stroke="#000080" stroke-width="2.8"/>
<path d="M495.8 890.5L515.3 897" stroke="#000080" stroke-width="2.8"/>
<path d="M493.9 895.8L513.2 903.1" stroke="#000080" stroke-width="2.8"/>
<path d="M491.8 901L510.8 909" stroke="#000080" stroke-width="2.8"/>
<path d="M489.5 906.1L508.2 914.9" stroke="#000080" stroke-width="2.8"/>
<path d="M487 911.2L505.3 920.7" stroke="#000080" stroke-width="2.8"/>
<path d="M484.4 916.1L502.2 926.3" stroke="#000080" stroke-width="2.8"/>
<path d="M481.5 920.9L498.9 931.8" stroke="#000080" stroke-width="2.8"/>
<path d="M478.4 925.6L495.4 937.2" stroke="#000000" stroke-width="2.8"/>
<path d="M475.2 930.2L491.7 942.4" stroke="#000000" stroke-width="2.8"/>
<path d="M471.7 934.6L487.8 947.5" stroke="#000000" stroke-width="2.8"/>
<path d="M468.1 938.9L483.7 952.5" stroke="#000000" stroke-width="2.8"/>
<path d="M464.4 943.1L479.4 957.2" stroke="#000000" stroke-width="2.8"/>
<path d="M460.4 947.1L474.9 961.8" stroke="#000000" stroke-width="2.8"/>
<path d="M456.4 950.9L470.2 966.2" stroke="#000000" stroke-width="2.8"/>
<path d="M452.1 954.6L465.3 970.4" stroke="#000000" stroke-width="2.8"/>
<path d="M447.8 958.1L460.3 974.4" stroke="#000000" stroke-width="2.8"/>
<path d="M443.2 961.5L455.2 978.3" stroke="#000000" stroke-width="2.8"/>
<path d="M438.6 964.6L449.8 981.9" stroke="#000000" stroke-width="2.8"/>
<path d="M433.8 967.6L444.4 985.3" stroke="#000000" stroke-width="2.8"/>
<path d="M429 970.4L438.8 988.5" stroke="#000000" stroke-width="2.8"/>
<path d="M424 972.9L433.1 991.4" stroke="#000000" stroke-width="2.8"/>
<path d="M418.9 975.3L427.3 994.1" stroke="#000000" stroke-width="2.8"/>
<path d="M413.7 977.5L421.4 996.6" stroke="#000000" stroke-width="2.8"/>
<path d="M408.5 979.5L415.4 998.9" stroke="#000000" stroke-width="2.8"/>
<path d="M403.2 981.2L409.3 1000.9" stroke="#000000" stroke-width="2.8"/>
<path d="M397.8 982.8L403.1 1002.7" stroke="#000000" stroke-width="2.8"/>
<path d="M392.3 984.1L396.9 1004.2" stroke="#000000" stroke-width="2.8"/>
<path d="M386.8 985.3L390.6 1005.5" stroke="#000000" stroke-width="2.8"/>
<path d="M381.3 986.2L384.2 1006.6" stroke="#000000" stroke-width="2.8"/>
<path d="M375.7 986.9L377.8 1007.3" stroke="#0000ff" stroke-width="2.8"/>
<path d="M370.1 987.3L371.4 1007.9" stroke="#ebb5c0" stroke-width="2.8"/>
<path d="M364.5 987.6L365 1008.2" stroke="#800080" stroke-width="2.8"/>
<path d="M358.9 987.6L358.6 1008.2" stroke="#ff0050" stroke-width="2.8"/>
<path d="M353.3 987.4L352.2 1007.9" stroke="#f00050" stroke-width="2.8"/>
<path d="M347.7 987L345.8 1007.5" stroke="#f00050" stroke-width="2.8"/>
<path d="M342.1 986.3L339.4 1006.7" stroke="#ffff00" stroke-width="2.8"/>
<path d="M336.6 985.4L333 1005.7" stroke="#ffff00" stroke-width="2.8"/>
<path d="M331.1 984.4L326.7 1004.5" stroke="#ffff00" stroke-width="2.8"/>
<path d="M325.6 983.1L320.4 1003" stroke="#ffff00" stroke-width="2.8"/>
<path d="M320.2 981.5L314.2 1001.3" stroke="#ffff00" stroke-width="2.8"/>
<path d="M314.9 979.8L308.1 999.3" stroke="#ffff00" stroke-width="2.8"/>
<path d="M309.6 977.9L302.1 997.1" stroke="#ffff00" stroke-width="2.8"/>
<path d="M304.4 975.7L296.1 994.6" stroke="#ffff00" stroke-width="2.8"/>
<path d="M299.3 973.4L290.3 991.9" stroke="#ffff00" stroke-width="2.8"/>
<path d="M294.3 970.8L284.6 989" stroke="#8b6355" stroke-width="2.8"/>
<path d="M289.4 968.1L279 985.8" stroke="#ff8000" stroke-width="2.8"/>
<path d="M284.6 965.1L273.5 982.5" stroke="#ff8000" stroke-width="2.8"/>
<path d="M279.9 962L268.1 978.9" stroke="#0000ff" stroke-width="2.8"/>
<path d="M275.4 958.7L262.9 975.1" stroke="#0000ff" stroke-width="2.8"/>
<path d="M271 955.2L257.9 971.1" stroke="#ff8000" stroke-width="2.8"/>
<path d="M266.7 951.6L253 966.9" stroke="#ff8000" stroke-width="2.8"/>
<path d="M262.6 947.7L248.3 962.5" stroke="#ff8000" stroke-width="2.8"/>
<path d="M258.7 943.7L243.8 958" stroke="#ff8000" stroke-width="2.8"/>
<path d="M254.9 939.6L239.4 953.2" stroke="#ff8000" stroke-width="2.8"/>
<path d="M251.2 935.3L235.3 948.3" stroke="#ff8000" stroke-width="2.8"/>
<path d="M247.8 930.9L231.3 943.3" stroke="#ff8000" stroke-width="2.8"/>
<path d="M244.5 926.3L227.5 938" stroke="#ff8000" stroke-width="2.8"/>
<path d="M241.4 921.7L224 932.7" stroke="#ff8000" stroke-width="2.8"/>
<path d="M238.5 916.9L220.7 927.2" stroke="#ff8000" stroke-width="2.8"/>
<path d="M235.8 911.9L217.5 921.6" stroke="#606060" stroke-width="2.8"/>
<path d="M233.2 906.9L214.7 915.8" stroke="#606060" stroke-width="2.8"/>
<path d="M230.9 901.8L212 909.9" stroke="#004000" stroke-width="2.8"/>
<path d="M228.8 896.6L209.6 904" stroke="#004000" stroke-width="2.8"/>
<path d="M226.9 891.3L207.4 897.9" stroke="#004000" stroke-width="2.8"/>
<path d="M225.2 886L205.5 891.8" stroke="#00ffff" stroke-width="2.8"/>
<path d="M223.7 880.6L203.8 885.6" stroke="#00ffff" stroke-width="2.8"/>
<path d="M222.5 875.1L202.3 879.3" stroke="#00ffff" stroke-width="2.8"/>
<path d="M221.4 869.6L201.1 873" stroke="#00ffff" stroke-width="2.8"/>
<path d="M220.6 864L200.1 866.7" stroke="#00ffff" stroke-width="2.8"/>
<path d="M220 858.4L199.4 860.3" stroke="#00ffff" stroke-width="2.8"/>
<path d="M219.6 852.8L199 853.8" stroke="#00ffff" stroke-width="2.8"/>
<path d="M219.4 847.2L198.8 847.4" stroke="#00ffff" stroke-width="2.8"/>
<path d="M219.5 841.6L198.9 841" stroke="#00ffff" stroke-width="2.8"/>
<path d="M219.7 836L199.2 834.5" stroke="#00ffff" stroke-width="2.8"/>
<path d="M220.2 830.3L199.8 828.1" stroke="#00ffff" stroke-width="2.8"/>
<path d="M221 824.8L200.6 821.7" stroke="#00ffff" stroke-width="2.8"/>
<path d="M221.9 819.2L201.7 815.3" stroke="#00ffff" stroke-width="2.8"/>
<path d="M223.1 813.7L203 809" stroke="#00ffff" stroke-width="2.8"/>
<path d="M224.5 808.2L204.6 802.8" stroke="#00ffff" stroke-width="2.8"/>
<path d="M226.1 802.8L206.4 796.6" stroke="#00ffff" stroke-width="2.8"/>
<path d="M227.9 797.5L208.5 790.5" stroke="#00ffff" stroke-width="2.8"/>
<path d="M229.9 792.2L210.8 784.4" stroke="#c0c0c0" stroke-width="2.8"/>
<path d="M232.1 787.1L213.4 778.5" stroke="#c0c0c0" stroke-width="2.8"/>
<path d="M234.6 782L216.2 772.7" stroke="#c0c0c0" stroke-width="2.8"/>
<path d="M237.2 777L219.2 767" stroke="#c0c0c0" stroke-width="2.8"/>
<path d="M240 772.1L222.4 761.4" stroke="#c0c0c0" stroke-width="2.8"/>
<path d="M243.1 767.4L225.9 756" stroke="#c0c0c0" stroke-width="2.8"/>
<path d="M246.3 762.7L229.6 750.7" stroke="#c0c0c0" stroke-width="2.8"/>
<path d="M249.7 758.2L233.5 745.5" stroke="#c0c0c0" stroke-width="2.8"/>
<path d="M253.2 753.9L237.6 740.5" stroke="#008000" stroke-width="2.8"/>
<path d="M257 749.6L241.8 735.7" stroke="#008000" stroke-width="2.8"/>
<path d="M260.9 745.6L246.3 731" stroke="#008000" stroke-width="2.8"/>
<path d="M264.9 741.7L251 726.5" stroke="#008000" stroke-width="2.8"/>
<path d="M269.2 737.9L255.8 722.3" stroke="#008000" stroke-width="2.8"/>
<path d="M273.5 734.4L260.8 718.2" stroke="#008000" stroke-width="2.8"/>
<path d="M278 731L265.9 714.3" stroke="#008000" stroke-width="2.8"/>
<path d="M282.7 727.7L271.2 710.6" stroke="#008000" stroke-width="2.8"/>
<path d="M287.4 724.7L276.7 707.1" stroke="#008000" stroke-width="2.8"/>
<path d="M292.3 721.9L282.3 703.9" stroke="#008000" stroke-width="2.8"/>
<path d="M297.3 719.2L288 700.9" stroke="#008000" stroke-width="2.8"/>
<path d="M302.3 716.8L293.8 698.1" stroke="#008000" stroke-width="2.8"/>
<path d="M307.5 714.6L299.7 695.5" stroke="#008000" stroke-width="2.8"/>
<g font-family="'Liberation Sans',Arial,sans-serif" font-size="7.7" font-weight="bold" fill="#000">
<text transform="translate(333.1,683.3) rotate(80.1)" text-anchor="end" dy="0.35em">4 *3.2.1.99</text>
<text transform="translate(339.6,682.3) rotate(82.3)" text-anchor="end" dy="0.35em">4 *3.2.1.99</text>
<text transform="translate(346.1,681.5) rotate(84.6)" text-anchor="end" dy="0.35em">4 *3.2.1.99</text>
<text transform="translate(352.7,681) rotate(86.9)" text-anchor="end" dy="0.35em">4 *3.2.1.*</text>
<text transform="translate(359.3,680.8) rotate(89.2)" text-anchor="end" dy="0.35em">4 *3.2.1.99</text>
<text transform="translate(365.8,680.9) rotate(-88.6)" text-anchor="start" dy="0.35em">4 *3.2.1.99</text>
<text transform="translate(372.4,681.1) rotate(-86.3)" text-anchor="start" dy="0.35em">5 *3.2.1.99</text>
<text transform="translate(379,681.7) rotate(-84)" text-anchor="start" dy="0.35em">5 *3.2.1.99</text>
<text transform="translate(385.5,682.5) rotate(-81.7)" text-anchor="start" dy="0.35em">5 *3.2.1.99</text>
<text transform="translate(392,683.6) rotate(-79.5)" text-anchor="start" dy="0.35em">5 *3.2.1.*</text>
<text transform="translate(398.4,684.9) rotate(-77.2)" text-anchor="start" dy="0.35em">5 *3.2.1.99</text>
<text transform="translate(404.8,686.5) rotate(-74.9)" text-anchor="start" dy="0.35em">5 *3.2.1.99</text>
<text transform="translate(411.1,688.4) rotate(-72.6)" text-anchor="start" dy="0.35em">5 *3.2.1.99</text>
<text transform="translate(417.4,690.4) rotate(-70.3)" text-anchor="start" dy="0.35em">5 *3.2.1.99</text>
<text transform="translate(423.5,692.8) rotate(-68.1)" text-anchor="start" dy="0.35em">5 *3.2.1.99</text>
<text transform="translate(429.6,695.4) rotate(-65.8)" text-anchor="start" dy="0.35em">5 *3.2.1.99</text>
<text transform="translate(435.5,698.2) rotate(-63.5)" text-anchor="start" dy="0.35em">6 *3.2.1.99</text>
<text transform="translate(441.3,701.2) rotate(-61.2)" text-anchor="start" dy="0.35em">6 *3.2.1.99</text>
<text transform="translate(447,704.5) rotate(-59)" text-anchor="start" dy="0.35em">6 *3.2.1.99</text>
<text transform="translate(452.6,708) rotate(-56.7)" text-anchor="start" dy="0.35em">6 *3.2.1.99</text>
<text transform="translate(458,711.7) rotate(-54.4)" text-anchor="start" dy="0.35em">6 *3.2.1.99</text>
<text transform="translate(463.3,715.7) rotate(-52.1)" text-anchor="start" dy="0.35em">6 *3.2.1.99</text>
<text transform="translate(468.4,719.8) rotate(-49.8)" text-anchor="start" dy="0.35em">10 *3.2.1.55</text>
<text transform="translate(473.4,724.1) rotate(-47.6)" text-anchor="start" dy="0.35em">6 *3.2.1.99</text>
<text transform="translate(478.1,728.7) rotate(-45.3)" text-anchor="start" dy="0.35em">6 *3.2.1.99</text>
<text transform="translate(482.7,733.4) rotate(-43)" text-anchor="start" dy="0.35em">6 *3.2.1.99</text>
<text transform="translate(487.1,738.3) rotate(-40.7)" text-anchor="start" dy="0.35em">4 *3.2.1.99</text>
<text transform="translate(491.3,743.4) rotate(-38.5)" text-anchor="start" dy="0.35em">4 *3.2.1.99</text>
<text transform="translate(495.3,748.6) rotate(-36.2)" text-anchor="start" dy="0.35em">4 *3.2.1.99</text>
<text transform="translate(499.1,754) rotate(-33.9)" text-anchor="start" dy="0.35em">4 *3.2.1.99</text>
<text transform="translate(502.6,759.5) rotate(-31.6)" text-anchor="start" dy="0.35em">4 *3.2.1.99</text>
<text transform="translate(506,765.2) rotate(-29.4)" text-anchor="start" dy="0.35em">4 *3.2.1.99</text>
<text transform="translate(509.1,771) rotate(-27.1)" text-anchor="start" dy="0.35em">4 *3.2.1.99</text>
<text transform="translate(511.9,776.9) rotate(-24.8)" text-anchor="start" dy="0.35em">24 *3.2.1.145</text>
<text transform="translate(514.6,782.9) rotate(-22.5)" text-anchor="start" dy="0.35em"> *3.2.1.55</text>
<text transform="translate(517,789) rotate(-20.2)" text-anchor="start" dy="0.35em">10 *3.2.1.55</text>
<text transform="translate(519.1,795.2) rotate(-18)" text-anchor="start" dy="0.35em">10 *3.2.1.37</text>
<text transform="translate(521,801.5) rotate(-15.7)" text-anchor="start" dy="0.35em">10 *3.2.1.55</text>
<text transform="translate(522.7,807.9) rotate(-13.4)" text-anchor="start" dy="0.35em">36 *3.2.1.55</text>
<text transform="translate(524.1,814.3) rotate(-11.1)" text-anchor="start" dy="0.35em">36 *3.2.1.55</text>
<text transform="translate(525.2,820.8) rotate(-8.9)" text-anchor="start" dy="0.35em">10 *3.2.1.55</text>
<text transform="translate(526.1,827.3) rotate(-6.6)" text-anchor="start" dy="0.35em">10 *3.2.1.55</text>
<text transform="translate(526.7,833.9) rotate(-4.3)" text-anchor="start" dy="0.35em">10 *3.2.1.55</text>
<text transform="translate(527.1,840.4) rotate(-2)" text-anchor="start" dy="0.35em">10 *3.2.1.55</text>
<text transform="translate(527.2,847) rotate(0.2)" text-anchor="start" dy="0.35em">16 *3.2.1.55</text>
<text transform="translate(527,853.6) rotate(2.5)" text-anchor="start" dy="0.35em">16 *3.2.1.37</text>
<text transform="translate(526.6,860.1) rotate(4.8)" text-anchor="start" dy="0.35em">14 *3.2.1.37</text>
<text transform="translate(525.9,866.6) rotate(7)" text-anchor="start" dy="0.35em">12 *3.2.1.37</text>
<text transform="translate(525,873.1) rotate(9.3)" text-anchor="start" dy="0.35em">12 *3.2.1.55</text>
<text transform="translate(523.8,879.5) rotate(11.6)" text-anchor="start" dy="0.35em">12 *3.2.1.55</text>
<text transform="translate(522.4,885.9) rotate(13.9)" text-anchor="start" dy="0.35em">12 *3.2.1.37</text>
<text transform="translate(520.7,892.2) rotate(16.1)" text-anchor="start" dy="0.35em">12 *3.2.1.55</text>
<text transform="translate(518.8,898.5) rotate(18.4)" text-anchor="start" dy="0.35em">12 *3.2.1.55</text>
<text transform="translate(516.6,904.7) rotate(20.7)" text-anchor="start" dy="0.35em">12 *3.2.1.37</text>
<text transform="translate(514.1,910.7) rotate(22.9)" text-anchor="start" dy="0.35em">12 *3.2.1.37</text>
<text transform="translate(511.5,916.7) rotate(25.2)" text-anchor="start" dy="0.35em">12 *3.2.1.55</text>
<text transform="translate(508.6,922.6) rotate(27.5)" text-anchor="start" dy="0.35em">12 *3.2.1.55</text>
<text transform="translate(505.4,928.3) rotate(29.7)" text-anchor="start" dy="0.35em">12 *3.2.1.55</text>
<text transform="translate(502.1,934) rotate(32)" text-anchor="start" dy="0.35em">12 *3.2.1.55</text>
<text transform="translate(498.5,939.4) rotate(34.2)" text-anchor="start" dy="0.35em">11 *3.2.1.37</text>
<text transform="translate(494.7,944.8) rotate(36.5)" text-anchor="start" dy="0.35em">11 *3.2.1.</text>
<text transform="translate(490.7,950) rotate(38.8)" text-anchor="start" dy="0.35em">11 *3.2.1.37</text>
<text transform="translate(486.5,955) rotate(41.1)" text-anchor="start" dy="0.35em">11 *3.2.1.37</text>
<text transform="translate(482.1,959.8) rotate(43.3)" text-anchor="start" dy="0.35em">11 *3.2.1.37</text>
<text transform="translate(477.5,964.5) rotate(45.6)" text-anchor="start" dy="0.35em">11 *3.2.1.37</text>
<text transform="translate(472.8,969) rotate(47.8)" text-anchor="start" dy="0.35em">11 *3.2.1.37</text>
<text transform="translate(467.8,973.3) rotate(50.1)" text-anchor="start" dy="0.35em">11 *3.2.1.37</text>
<text transform="translate(462.7,977.4) rotate(52.4)" text-anchor="start" dy="0.35em">11 *3.2.1.37</text>
<text transform="translate(457.5,981.3) rotate(54.7)" text-anchor="start" dy="0.35em">11 *3.2.1.37</text>
<text transform="translate(452,985) rotate(56.9)" text-anchor="start" dy="0.35em">11 *3.2.1.37</text>
<text transform="translate(446.5,988.4) rotate(59.2)" text-anchor="start" dy="0.35em">11 *3.2.1.37</text>
<text transform="translate(440.8,991.7) rotate(61.4)" text-anchor="start" dy="0.35em">11 *3.2.1.37</text>
<text transform="translate(435,994.7) rotate(63.7)" text-anchor="start" dy="0.35em">11 *3.2.1.37</text>
<text transform="translate(429.1,997.5) rotate(66)" text-anchor="start" dy="0.35em">11 *3.2.1.37</text>
<text transform="translate(423,1000) rotate(68.2)" text-anchor="start" dy="0.35em">11 *3.2.1.37</text>
<text transform="translate(416.9,1002.3) rotate(70.5)" text-anchor="start" dy="0.35em">11 *3.2.1.*</text>
<text transform="translate(410.7,1004.4) rotate(72.8)" text-anchor="start" dy="0.35em">11 *3.2.1.37</text>
<text transform="translate(404.4,1006.2) rotate(75.1)" text-anchor="start" dy="0.35em">11 *3.2.1.37</text>
<text transform="translate(398,1007.8) rotate(77.3)" text-anchor="start" dy="0.35em">11 *3.2.1.37</text>
<text transform="translate(391.6,1009.1) rotate(79.6)" text-anchor="start" dy="0.35em">11 *3.2.1.37</text>
<text transform="translate(385.2,1010.1) rotate(81.9)" text-anchor="start" dy="0.35em">11 *3.2.1.37</text>
<text transform="translate(378.7,1010.9) rotate(84.1)" text-anchor="start" dy="0.35em">27 *3.2.1.55</text>
<text transform="translate(372.1,1011.5) rotate(86.4)" text-anchor="start" dy="0.35em">19 *3.2.1.55</text>
<text transform="translate(365.6,1011.8) rotate(88.7)" text-anchor="start" dy="0.35em">22 *3.2.1.37</text>
<text transform="translate(359,1011.8) rotate(-89.1)" text-anchor="end" dy="0.35em">21 *3.2.1.55</text>
<text transform="translate(352.5,1011.5) rotate(-86.8)" text-anchor="end" dy="0.35em">37 *3.2.1.99</text>
<text transform="translate(346,1011) rotate(-84.5)" text-anchor="end" dy="0.35em">37 *3.2.1.99</text>
<text transform="translate(339.4,1010.3) rotate(-82.3)" text-anchor="end" dy="0.35em">24 *3.2.1.145</text>
<text transform="translate(333,1009.3) rotate(-80)" text-anchor="end" dy="0.35em">24 *3.2.1.145</text>
<text transform="translate(326.5,1008) rotate(-77.7)" text-anchor="end" dy="0.35em">24 *3.2.1.145</text>
<text transform="translate(320.2,1006.5) rotate(-75.5)" text-anchor="end" dy="0.35em">24 *3.2.1.145</text>
<text transform="translate(313.8,1004.7) rotate(-73.2)" text-anchor="end" dy="0.35em">24 *3.2.1.145</text>
<text transform="translate(307.6,1002.7) rotate(-70.9)" text-anchor="end" dy="0.35em">24 *3.2.1.145</text>
<text transform="translate(301.5,1000.4) rotate(-68.7)" text-anchor="end" dy="0.35em">24 *3.2.1.145</text>
<text transform="translate(295.4,997.9) rotate(-66.4)" text-anchor="end" dy="0.35em">24 *3.2.1.145</text>
<text transform="translate(289.5,995.2) rotate(-64.1)" text-anchor="end" dy="0.35em">24 *3.2.1.145</text>
<text transform="translate(283.6,992.2) rotate(-61.8)" text-anchor="end" dy="0.35em">33 *3.2.1.145</text>
<text transform="translate(277.9,989) rotate(-59.6)" text-anchor="end" dy="0.35em">26 *3.2.1.55</text>
<text transform="translate(272.3,985.6) rotate(-57.3)" text-anchor="end" dy="0.35em">26 *3.2.1.*</text>
<text transform="translate(266.9,981.9) rotate(-55)" text-anchor="end" dy="0.35em">27 *3.2.1.55</text>
<text transform="translate(261.6,978.1) rotate(-52.8)" text-anchor="end" dy="0.35em">27 *3.2.1.37</text>
<text transform="translate(256.4,974) rotate(-50.5)" text-anchor="end" dy="0.35em">26 *3.2.1.*</text>
<text transform="translate(251.5,969.7) rotate(-48.2)" text-anchor="end" dy="0.35em">26 *3.2.1.55</text>
<text transform="translate(246.7,965.3) rotate(-46)" text-anchor="end" dy="0.35em">26 *3.2.1.55</text>
<text transform="translate(242,960.6) rotate(-43.7)" text-anchor="end" dy="0.35em">26 *3.2.1.55</text>
<text transform="translate(237.6,955.8) rotate(-41.4)" text-anchor="end" dy="0.35em">26 *3.2.1.*</text>
<text transform="translate(233.4,950.8) rotate(-39.2)" text-anchor="end" dy="0.35em">26 *3.2.1.*</text>
<text transform="translate(229.3,945.6) rotate(-36.9)" text-anchor="end" dy="0.35em">26 *3.2.1.*</text>
<text transform="translate(225.5,940.3) rotate(-34.6)" text-anchor="end" dy="0.35em">26 *3.2.1.*</text>
<text transform="translate(221.9,934.8) rotate(-32.3)" text-anchor="end" dy="0.35em">26 *3.2.1.*</text>
<text transform="translate(218.5,929.2) rotate(-30.1)" text-anchor="end" dy="0.35em">26 *3.2.1.*</text>
<text transform="translate(215.3,923.5) rotate(-27.8)" text-anchor="end" dy="0.35em">34 *3.2.1.55</text>
<text transform="translate(212.4,917.6) rotate(-25.5)" text-anchor="end" dy="0.35em">34 *3.2.1.55</text>
<text transform="translate(209.7,911.7) rotate(-23.3)" text-anchor="end" dy="0.35em">35 *3.2.1.37</text>
<text transform="translate(207.2,905.6) rotate(-21)" text-anchor="end" dy="0.35em">35 *3.2.1.37</text>
<text transform="translate(205,899.4) rotate(-18.7)" text-anchor="end" dy="0.35em">35 *3.2.1.37</text>
<text transform="translate(203,893.2) rotate(-16.5)" text-anchor="end" dy="0.35em">1 *3.2.1.37</text>
<text transform="translate(201.2,886.9) rotate(-14.2)" text-anchor="end" dy="0.35em">1 *3.2.1.37</text>
<text transform="translate(199.8,880.5) rotate(-11.9)" text-anchor="end" dy="0.35em">1 *3.2.1.37</text>
<text transform="translate(198.5,874) rotate(-9.6)" text-anchor="end" dy="0.35em">1 *3.2.1.37</text>
<text transform="translate(197.6,867.6) rotate(-7.4)" text-anchor="end" dy="0.35em">1 *3.2.1.37</text>
<text transform="translate(196.9,861) rotate(-5.1)" text-anchor="end" dy="0.35em">1 *3.2.1.37</text>
<text transform="translate(196.4,854.5) rotate(-2.8)" text-anchor="end" dy="0.35em">1 *3.2.1.37</text>
<text transform="translate(196.2,847.9) rotate(-0.6)" text-anchor="end" dy="0.35em">1 *3.2.1.37</text>
<text transform="translate(196.3,841.4) rotate(1.7)" text-anchor="end" dy="0.35em">1 *3.2.1.37</text>
<text transform="translate(196.6,834.8) rotate(4)" text-anchor="end" dy="0.35em">1 *3.2.1.37</text>
<text transform="translate(197.2,828.3) rotate(6.3)" text-anchor="end" dy="0.35em">1 *3.2.1.37</text>
<text transform="translate(198,821.7) rotate(8.5)" text-anchor="end" dy="0.35em">1 *3.2.1.37</text>
<text transform="translate(199.1,815.3) rotate(10.8)" text-anchor="end" dy="0.35em">1 *3.2.1.37</text>
<text transform="translate(200.5,808.8) rotate(13.1)" text-anchor="end" dy="0.35em">1 *3.2.1.37</text>
<text transform="translate(202.1,802.4) rotate(15.4)" text-anchor="end" dy="0.35em">1 *3.2.1.37</text>
<text transform="translate(204,796.1) rotate(17.6)" text-anchor="end" dy="0.35em">1 *3.2.1.37</text>
<text transform="translate(206.1,789.9) rotate(19.9)" text-anchor="end" dy="0.35em">1 *3.2.1.37</text>
<text transform="translate(208.5,783.8) rotate(22.2)" text-anchor="end" dy="0.35em">29 *3.2.1.*</text>
<text transform="translate(211.1,777.7) rotate(24.5)" text-anchor="end" dy="0.35em">29 *3.2.1.*</text>
<text transform="translate(213.9,771.8) rotate(26.8)" text-anchor="end" dy="0.35em">29 *3.2.1.55</text>
<text transform="translate(217,766) rotate(29)" text-anchor="end" dy="0.35em">29 *3.2.1.55</text>
<text transform="translate(220.3,760.3) rotate(31.3)" text-anchor="end" dy="0.35em">29 *3.2.1.8</text>
<text transform="translate(223.8,754.7) rotate(33.6)" text-anchor="end" dy="0.35em">29 *3.2.1.8</text>
<text transform="translate(227.6,749.3) rotate(35.9)" text-anchor="end" dy="0.35em">29 *3.2.1.37</text>
<text transform="translate(231.5,744.1) rotate(38.1)" text-anchor="end" dy="0.35em">29 *3.2.1.37</text>
<text transform="translate(235.7,739) rotate(40.4)" text-anchor="end" dy="0.35em">16 *3.2.1.55</text>
<text transform="translate(240.1,734.1) rotate(42.7)" text-anchor="end" dy="0.35em">16 *3.2.1.8</text>
<text transform="translate(244.6,729.3) rotate(45)" text-anchor="end" dy="0.35em">16 *3.2.1.55</text>
<text transform="translate(249.4,724.8) rotate(47.3)" text-anchor="end" dy="0.35em">16 *3.2.1.37</text>
<text transform="translate(254.3,720.4) rotate(49.5)" text-anchor="end" dy="0.35em">16 *3.2.1.55</text>
<text transform="translate(259.4,716.2) rotate(51.8)" text-anchor="end" dy="0.35em">16 *3.2.1.*</text>
<text transform="translate(264.6,712.3) rotate(54.1)" text-anchor="end" dy="0.35em">16 *3.2.1.55</text>
<text transform="translate(270,708.5) rotate(56.4)" text-anchor="end" dy="0.35em">16 *3.2.1.*</text>
<text transform="translate(275.6,705) rotate(58.6)" text-anchor="end" dy="0.35em">16 *3.2.1.55</text>
<text transform="translate(281.3,701.7) rotate(60.9)" text-anchor="end" dy="0.35em">16 *3.2.1.55</text>
<text transform="translate(287.1,698.6) rotate(63.2)" text-anchor="end" dy="0.35em">16 *3.2.1.55</text>
<text transform="translate(293,695.7) rotate(65.5)" text-anchor="end" dy="0.35em">16 *3.2.1.55</text>
<text transform="translate(299,693.1) rotate(67.8)" text-anchor="end" dy="0.35em">16 *3.2.1.55</text>
</g>
<g font-family="'Liberation Sans',Arial,sans-serif" font-size="7.5" font-style="italic">
<text transform="translate(324.5,634.1) rotate(80.1)" text-anchor="end" dy="0.35em" fill="#0000ff">Paenibacillus polymyxa</text>
<text transform="translate(332.9,632.8) rotate(82.3)" text-anchor="end" dy="0.35em" fill="#0000ff">Caldicellulosiruptor saccharolyticus</text>
<text transform="translate(341.4,631.9) rotate(84.6)" text-anchor="end" dy="0.35em" fill="#0000ff">Bacteroides thetaiotaomicron</text>
<text transform="translate(350,631.2) rotate(86.9)" text-anchor="end" dy="0.35em" fill="#0000ff" font-style="normal">Unclassified</text>
<text transform="translate(358.5,630.9) rotate(89.2)" text-anchor="end" dy="0.35em" fill="#0000ff" font-style="normal">Unclassified</text>
<text transform="translate(367.1,631) rotate(-88.6)" text-anchor="start" dy="0.35em" fill="#0000ff">Bacteroides thetaiotaomicron</text>
<text transform="translate(375.7,631.4) rotate(-86.3)" text-anchor="start" dy="0.35em" fill="#0000ff">Bacillus</text>
<text transform="translate(384.2,632.1) rotate(-84)" text-anchor="start" dy="0.35em" fill="#0000ff">Bacillus stearothermophilus</text>
<text transform="translate(392.7,633.1) rotate(-81.7)" text-anchor="start" dy="0.35em" fill="#0000ff">Cellvibrio japonicus</text>
<text transform="translate(401.1,634.5) rotate(-79.5)" text-anchor="start" dy="0.35em" fill="#0000ff" font-style="normal">uncultivated bacterium</text>
<text transform="translate(409.5,636.3) rotate(-77.2)" text-anchor="start" dy="0.35em" fill="#f00040">Rhizomucor miehei</text>
<text transform="translate(417.8,638.3) rotate(-74.9)" text-anchor="start" dy="0.35em" fill="#0000ff">Paenibacillus polymyxa</text>
<text transform="translate(426,640.7) rotate(-72.6)" text-anchor="start" dy="0.35em" fill="#0000ff">Bacillus licheniformis</text>
<text transform="translate(434.1,643.4) rotate(-70.3)" text-anchor="start" dy="0.35em" fill="#0000ff">Vibrio subtilis</text>
<text transform="translate(442.2,646.5) rotate(-68.1)" text-anchor="start" dy="0.35em" fill="#0000ff">Vibrio subtilis</text>
<text transform="translate(450,649.8) rotate(-65.8)" text-anchor="start" dy="0.35em" fill="#ff8000">Phanerochaete chrysosporium</text>
<text transform="translate(457.8,653.5) rotate(-63.5)" text-anchor="start" dy="0.35em" fill="#008000">Emericella nidulans</text>
<text transform="translate(465.3,657.5) rotate(-61.2)" text-anchor="start" dy="0.35em" fill="#008000">Emericella nidulans</text>
<text transform="translate(472.8,661.7) rotate(-59)" text-anchor="start" dy="0.35em" fill="#008000">Chrysosporium lucknowense</text>
<text transform="translate(480,666.3) rotate(-56.7)" text-anchor="start" dy="0.35em" fill="#008000">Aspergillus aculeatus</text>
<text transform="translate(487.1,671.1) rotate(-54.4)" text-anchor="start" dy="0.35em" fill="#008000">Aspergillus niger</text>
<text transform="translate(493.9,676.3) rotate(-52.1)" text-anchor="start" dy="0.35em" fill="#008000">Aspergillus niger</text>
<text transform="translate(500.6,681.7) rotate(-49.8)" text-anchor="start" dy="0.35em" fill="#0000ff">Fibrobacter succinogenes</text>
<text transform="translate(507,687.3) rotate(-47.6)" text-anchor="start" dy="0.35em" fill="#008000">Penicillium chrysogenum</text>
<text transform="translate(513.2,693.2) rotate(-45.3)" text-anchor="start" dy="0.35em" fill="#008000">Penicillium chrysogenum</text>
<text transform="translate(519.2,699.3) rotate(-43)" text-anchor="start" dy="0.35em" fill="#008000">Aspergillus neoniveus</text>
<text transform="translate(524.9,705.7) rotate(-40.7)" text-anchor="start" dy="0.35em" fill="#0000ff">Bacillus stearothermophilus</text>
<text transform="translate(530.4,712.3) rotate(-38.5)" text-anchor="start" dy="0.35em" fill="#0000ff" font-style="normal">uncultivated bacterium</text>
<text transform="translate(535.5,719.1) rotate(-36.2)" text-anchor="start" dy="0.35em" fill="#0000ff">Ruminococcus</text>
<text transform="translate(540.5,726.1) rotate(-33.9)" text-anchor="start" dy="0.35em" fill="#0000ff">Thermotoga</text>
<text transform="translate(545.1,733.3) rotate(-31.6)" text-anchor="start" dy="0.35em" fill="#0000ff">Pseudothermotoga thermarum</text>
<text transform="translate(549.4,740.7) rotate(-29.4)" text-anchor="start" dy="0.35em" fill="#0000ff">Paenibacillus polymyxa</text>
<text transform="translate(553.5,748.3) rotate(-27.1)" text-anchor="start" dy="0.35em" fill="#0000ff">Bacillus subtilis</text>
<text transform="translate(557.2,756) rotate(-24.8)" text-anchor="start" dy="0.35em" fill="#0000ff">Streptomyces</text>
<text transform="translate(560.7,763.8) rotate(-22.5)" text-anchor="start" dy="0.35em" fill="#0000ff">Bacteroides thetaiotaomicron</text>
<text transform="translate(563.8,771.8) rotate(-20.2)" text-anchor="start" dy="0.35em" fill="#0000ff">Clostridium stercorarium</text>
<text transform="translate(566.6,779.9) rotate(-18)" text-anchor="start" dy="0.35em" fill="#0000ff">Clostridium stercorarium</text>
<text transform="translate(569.1,788) rotate(-15.7)" text-anchor="start" dy="0.35em" fill="#0000ff">Bacteroides thetaiotaomicron</text>
<text transform="translate(571.2,796.3) rotate(-13.4)" text-anchor="start" dy="0.35em" fill="#008000">Chrysosporium lucknowense</text>
<text transform="translate(573,804.7) rotate(-11.1)" text-anchor="start" dy="0.35em" fill="#008000">Humicola insolens</text>
<text transform="translate(574.5,813.1) rotate(-8.9)" text-anchor="start" dy="0.35em" fill="#0000ff">Fibrobacter succinogenes</text>
<text transform="translate(575.7,821.6) rotate(-6.6)" text-anchor="start" dy="0.35em" fill="#0000ff">Paenibacillus</text>
<text transform="translate(576.5,830.1) rotate(-4.3)" text-anchor="start" dy="0.35em" fill="#0000ff">Bifidobacterium stercoris</text>
<text transform="translate(577,838.7) rotate(-2)" text-anchor="start" dy="0.35em" fill="#0000ff">Bacteroides ovatus</text>
<text transform="translate(577.1,847.2) rotate(0.2)" text-anchor="start" dy="0.35em" fill="#0000ff">Caldicellulosiruptor saccharolyticus</text>
<text transform="translate(576.9,855.8) rotate(2.5)" text-anchor="start" dy="0.35em" fill="#0000ff">Caldicellulosiruptor saccharolyticus</text>
<text transform="translate(576.3,864.3) rotate(4.8)" text-anchor="start" dy="0.35em" fill="#ff8000">Phanerochaete chrysosporium</text>
<text transform="translate(575.5,872.7) rotate(7)" text-anchor="start" dy="0.35em" fill="#0000ff">Bacillus thermoleovorans</text>
<text transform="translate(574.3,881.2) rotate(9.3)" text-anchor="start" dy="0.35em" fill="#0000ff">Bacteroides ovatus</text>
<text transform="translate(572.7,889.6) rotate(11.6)" text-anchor="start" dy="0.35em" fill="#0000ff">Oceanobacillus iheyensis</text>
<text transform="translate(570.8,897.9) rotate(13.9)" text-anchor="start" dy="0.35em" fill="#0000ff">Butyrivibrio fibrisolvens</text>
<text transform="translate(568.6,906.1) rotate(16.1)" text-anchor="start" dy="0.35em" fill="#0000ff">Bifidobacterium adolescentis</text>
<text transform="translate(566.1,914.2) rotate(18.4)" text-anchor="start" dy="0.35em" fill="#0000ff">Bacteroides ovatus</text>
<text transform="translate(563.3,922.3) rotate(20.7)" text-anchor="start" dy="0.35em" fill="#0000ff" font-style="normal">uncultivated bacterium</text>
<text transform="translate(560.1,930.2) rotate(22.9)" text-anchor="start" dy="0.35em" fill="#0000ff" font-style="normal">uncultivated bacterium</text>
<text transform="translate(556.6,938) rotate(25.2)" text-anchor="start" dy="0.35em" fill="#0000ff">Bacteroides intestinalis</text>
<text transform="translate(552.8,945.6) rotate(27.5)" text-anchor="start" dy="0.35em" fill="#0000ff">Bacteroides ovatus</text>
<text transform="translate(548.8,953.1) rotate(29.7)" text-anchor="start" dy="0.35em" fill="#0000ff">Bacteroides ovatus</text>
<text transform="translate(544.4,960.4) rotate(32)" text-anchor="start" dy="0.35em" fill="#0000ff">Prevotella bryantii</text>
<text transform="translate(539.7,967.5) rotate(34.2)" text-anchor="start" dy="0.35em" fill="#0000ff">Lactobacillus brevis</text>
<text transform="translate(534.8,974.5) rotate(36.5)" text-anchor="start" dy="0.35em" fill="#0000ff">Vibrio</text>
<text transform="translate(529.6,981.2) rotate(38.8)" text-anchor="start" dy="0.35em" fill="#0000ff">Thermobifida fusca</text>
<text transform="translate(524.1,987.8) rotate(41.1)" text-anchor="start" dy="0.35em" fill="#0000ff">Thermobifida fusca</text>
<text transform="translate(518.4,994.1) rotate(43.3)" text-anchor="start" dy="0.35em" fill="#0000ff">Bacillus halodurans</text>
<text transform="translate(512.5,1000.2) rotate(45.6)" text-anchor="start" dy="0.35em" fill="#008000">Humicola insolens</text>
<text transform="translate(506.2,1006) rotate(47.8)" text-anchor="start" dy="0.35em" fill="#0000ff">Caulobacter crescentus</text>
<text transform="translate(499.8,1011.6) rotate(50.1)" text-anchor="start" dy="0.35em" fill="#0000ff">Niveispirillum irakense</text>
<text transform="translate(493.2,1016.9) rotate(52.4)" text-anchor="start" dy="0.35em" fill="#0000ff">Spirillum ruminantium</text>
<text transform="translate(486.3,1022) rotate(54.7)" text-anchor="start" dy="0.35em" fill="#0000ff">Bifidobacterium adolescentis</text>
<text transform="translate(479.3,1026.8) rotate(56.9)" text-anchor="start" dy="0.35em" fill="#0000ff">Bifidobacterium animalis</text>
<text transform="translate(472,1031.3) rotate(59.2)" text-anchor="start" dy="0.35em" fill="#0000ff">Weissella</text>
<text transform="translate(464.6,1035.5) rotate(61.4)" text-anchor="start" dy="0.35em" fill="#0000ff">Lactobacillus brevis strain</text>
<text transform="translate(457.1,1039.4) rotate(63.7)" text-anchor="start" dy="0.35em" fill="#0000ff">Lactobacillus brevis</text>
<text transform="translate(449.4,1043.1) rotate(66)" text-anchor="start" dy="0.35em" fill="#0000ff">Enterobacter</text>
<text transform="translate(441.5,1046.4) rotate(68.2)" text-anchor="start" dy="0.35em" fill="#0000ff" font-style="normal">uncultivated bacterium</text>
<text transform="translate(433.5,1049.4) rotate(70.5)" text-anchor="start" dy="0.35em" fill="#0000ff">Bacillus stearothermophilus</text>
<text transform="translate(425.5,1052) rotate(72.8)" text-anchor="start" dy="0.35em" fill="#0000ff">Alkaliphilus metalliredigens</text>
<text transform="translate(417.3,1054.4) rotate(75.1)" text-anchor="start" dy="0.35em" fill="#0000ff">Bacillus pumilus</text>
<text transform="translate(409,1056.4) rotate(77.3)" text-anchor="start" dy="0.35em" fill="#0000ff">Bacillus pumilus</text>
<text transform="translate(400.6,1058.1) rotate(79.6)" text-anchor="start" dy="0.35em" fill="#0000ff">Vibrio subtilis</text>
<text transform="translate(392.2,1059.5) rotate(81.9)" text-anchor="start" dy="0.35em" fill="#0000ff">Bacillus</text>
<text transform="translate(383.8,1060.6) rotate(84.1)" text-anchor="start" dy="0.35em" fill="#0000ff">Paenibacillus</text>
<text transform="translate(375.3,1061.3) rotate(86.4)" text-anchor="start" dy="0.35em" fill="#0000ff">Bacteroides thetaiotaomicron</text>
<text transform="translate(366.8,1061.6) rotate(88.7)" text-anchor="start" dy="0.35em" fill="#0000ff">Bifidobacterium adolescentis</text>
<text transform="translate(358.2,1061.7) rotate(-89.1)" text-anchor="end" dy="0.35em" fill="#008000">Penicillium chrysogenum</text>
<text transform="translate(349.7,1061.4) rotate(-86.8)" text-anchor="end" dy="0.35em" fill="#0000ff">Fibrobacter succinogenes</text>
<text transform="translate(341.2,1060.7) rotate(-84.5)" text-anchor="end" dy="0.35em" fill="#0000ff">Ruminococcus</text>
<text transform="translate(332.7,1059.7) rotate(-82.3)" text-anchor="end" dy="0.35em" fill="#0000ff">Ruminiclostridium thermocellum</text>
<text transform="translate(324.3,1058.4) rotate(-80)" text-anchor="end" dy="0.35em" fill="#0000ff">Streptomyces avermitilis</text>
<text transform="translate(315.9,1056.8) rotate(-77.7)" text-anchor="end" dy="0.35em" fill="#0000ff">Bacteroides thetaiotaomicron</text>
<text transform="translate(307.6,1054.8) rotate(-75.5)" text-anchor="end" dy="0.35em" fill="#0000ff">Bifidobacterium longum</text>
<text transform="translate(299.4,1052.5) rotate(-73.2)" text-anchor="end" dy="0.35em" fill="#ff8000">Sistotrema lacteum</text>
<text transform="translate(291.3,1049.9) rotate(-70.9)" text-anchor="end" dy="0.35em" fill="#ff8000">Phanerochaete chrysosporium</text>
<text transform="translate(283.3,1046.9) rotate(-68.7)" text-anchor="end" dy="0.35em" fill="#008000">Fusarium oxysporum</text>
<text transform="translate(275.4,1043.7) rotate(-66.4)" text-anchor="end" dy="0.35em" fill="#0000ff">Streptomyces</text>
<text transform="translate(267.7,1040.1) rotate(-64.1)" text-anchor="end" dy="0.35em" fill="#0000ff">Streptomyces</text>
<text transform="translate(260.1,1036.2) rotate(-61.8)" text-anchor="end" dy="0.35em" fill="#0000ff">Halothermothrix orenii</text>
<text transform="translate(252.6,1032) rotate(-59.6)" text-anchor="end" dy="0.35em" fill="#008000">Penicillium chrysogenum</text>
<text transform="translate(245.4,1027.6) rotate(-57.3)" text-anchor="end" dy="0.35em" fill="#008000">Chrysosporium lucknowense</text>
<text transform="translate(238.3,1022.8) rotate(-55)" text-anchor="end" dy="0.35em" fill="#0000ff">Paenibacillus</text>
<text transform="translate(231.4,1017.8) rotate(-52.8)" text-anchor="end" dy="0.35em" fill="#0000ff">Bacillus thermoleovorans</text>
<text transform="translate(224.7,1012.5) rotate(-50.5)" text-anchor="end" dy="0.35em" fill="#0000ff">Streptomyces avermitilis</text>
<text transform="translate(218.2,1006.9) rotate(-48.2)" text-anchor="end" dy="0.35em" fill="#008000">Magnaporthe oryzae</text>
<text transform="translate(212,1001.1) rotate(-46)" text-anchor="end" dy="0.35em" fill="#008000">Chaetomium</text>
<text transform="translate(205.9,995.1) rotate(-43.7)" text-anchor="end" dy="0.35em" fill="#008000">Humicola insolens</text>
<text transform="translate(200.2,988.8) rotate(-41.4)" text-anchor="end" dy="0.35em" fill="#0000ff">Streptomyces chartreusis</text>
<text transform="translate(194.7,982.3) rotate(-39.2)" text-anchor="end" dy="0.35em" fill="#0000ff">Cellvibrio japonicus</text>
<text transform="translate(189.4,975.6) rotate(-36.9)" text-anchor="end" dy="0.35em" fill="#0000ff">Cellvibrio japonicus</text>
<text transform="translate(184.4,968.7) rotate(-34.6)" text-anchor="end" dy="0.35em" fill="#0000ff">Weissella</text>
<text transform="translate(179.7,961.5) rotate(-32.3)" text-anchor="end" dy="0.35em" fill="#0000ff">Betabacterium breve</text>
<text transform="translate(175.3,954.2) rotate(-30.1)" text-anchor="end" dy="0.35em" fill="#0000ff">Lactobacillus brevis</text>
<text transform="translate(171.2,946.8) rotate(-27.8)" text-anchor="end" dy="0.35em" fill="#0000ff">Bacteroides thetaiotaomicron</text>
<text transform="translate(167.3,939.1) rotate(-25.5)" text-anchor="end" dy="0.35em" fill="#0000ff">Bacteroides thetaiotaomicron</text>
<text transform="translate(163.8,931.4) rotate(-23.3)" text-anchor="end" dy="0.35em" fill="#0000ff" font-style="normal">uncultured bacterium</text>
<text transform="translate(160.6,923.5) rotate(-21)" text-anchor="end" dy="0.35em" fill="#0000ff">Paenibacillus woosongensis</text>
<text transform="translate(157.7,915.5) rotate(-18.7)" text-anchor="end" dy="0.35em" fill="#0000ff">Clostridium stercorarium</text>
<text transform="translate(155.1,907.3) rotate(-16.5)" text-anchor="end" dy="0.35em" fill="#0000ff" font-style="normal">uncultured rumen bacterium</text>
<text transform="translate(152.9,899.1) rotate(-14.2)" text-anchor="end" dy="0.35em" fill="#0000ff">Bacteroides intestinalis</text>
<text transform="translate(150.9,890.8) rotate(-11.9)" text-anchor="end" dy="0.35em" fill="#0000ff">Bacteroides ovatus</text>
<text transform="translate(149.3,882.4) rotate(-9.6)" text-anchor="end" dy="0.35em" fill="#0000ff">Proteiniphilum acetatigenes</text>
<text transform="translate(148.1,874) rotate(-7.4)" text-anchor="end" dy="0.35em" fill="#0000ff">Sphingobacterium</text>
<text transform="translate(147.2,865.5) rotate(-5.1)" text-anchor="end" dy="0.35em" fill="#0000ff">Bacteroides ruminicola</text>
<text transform="translate(146.6,857) rotate(-2.8)" text-anchor="end" dy="0.35em" fill="#0000ff" font-style="normal">uncultured rumen bacterium</text>
<text transform="translate(146.3,848.4) rotate(-0.6)" text-anchor="end" dy="0.35em" fill="#0000ff" font-style="normal">uncultivated bacterium</text>
<text transform="translate(146.4,839.9) rotate(1.7)" text-anchor="end" dy="0.35em" fill="#0000ff">Cellvibrio japonicus</text>
<text transform="translate(146.8,831.4) rotate(4)" text-anchor="end" dy="0.35em" fill="#008000">Helminthosporium zeicola</text>
<text transform="translate(147.6,822.8) rotate(6.3)" text-anchor="end" dy="0.35em" fill="#800080" font-size="15.3">Rhizophlyctis rosea</text>
<text transform="translate(148.7,814.3) rotate(8.5)" text-anchor="end" dy="0.35em" fill="#008000">Humicola insolens</text>
<text transform="translate(150.1,805.9) rotate(10.8)" text-anchor="end" dy="0.35em" fill="#008000">Paecilomyces</text>
<text transform="translate(151.9,797.5) rotate(13.1)" text-anchor="end" dy="0.35em" fill="#008000">Humicola lanuginosa</text>
<text transform="translate(154,789.2) rotate(15.4)" text-anchor="end" dy="0.35em" fill="#008000">Penicillium herquei</text>
<text transform="translate(156.4,781) rotate(17.6)" text-anchor="end" dy="0.35em" fill="#008000">Aspergillus terreus</text>
<text transform="translate(159.2,772.9) rotate(19.9)" text-anchor="end" dy="0.35em" fill="#008000">Aspergillus oryzae</text>
<text transform="translate(162.3,764.9) rotate(22.2)" text-anchor="end" dy="0.35em" fill="#0000ff">Cellvibrio japonicus</text>
<text transform="translate(165.7,757.1) rotate(24.5)" text-anchor="end" dy="0.35em" fill="#0000ff">Bacteroides thetaiotaomicron</text>
<text transform="translate(169.4,749.3) rotate(26.8)" text-anchor="end" dy="0.35em" fill="#0000ff" font-style="normal">Unclassified</text>
<text transform="translate(173.4,741.8) rotate(29)" text-anchor="end" dy="0.35em" fill="#0000ff">Bifidobacterium longum</text>
<text transform="translate(177.7,734.4) rotate(31.3)" text-anchor="end" dy="0.35em" fill="#0000ff" font-style="normal">uncultured bacterium</text>
<text transform="translate(182.3,727.1) rotate(33.6)" text-anchor="end" dy="0.35em" fill="#0000ff" font-style="normal">uncultured bacterium</text>
<text transform="translate(187.1,720.1) rotate(35.9)" text-anchor="end" dy="0.35em" fill="#008000">Talaromyces purpureogenus</text>
<text transform="translate(192.3,713.3) rotate(38.1)" text-anchor="end" dy="0.35em" fill="#0000ff">Butyrivibrio proteoclasticus</text>
<text transform="translate(197.7,706.6) rotate(40.4)" text-anchor="end" dy="0.35em" fill="#0000ff">Ruminiclostridium thermocellum</text>
<text transform="translate(203.4,700.2) rotate(42.7)" text-anchor="end" dy="0.35em" fill="#0000ff">Ruminococcus</text>
<text transform="translate(209.3,694.1) rotate(45)" text-anchor="end" dy="0.35em" fill="#0000ff">Caldicellulosiruptor</text>
<text transform="translate(215.5,688.1) rotate(47.3)" text-anchor="end" dy="0.35em" fill="#0000ff">Caldicellulosiruptor</text>
<text transform="translate(221.9,682.4) rotate(49.5)" text-anchor="end" dy="0.35em" fill="#0000ff">Caldicellulosiruptor saccharolyticus</text>
<text transform="translate(228.5,677) rotate(51.8)" text-anchor="end" dy="0.35em" fill="#0000ff">Caldicellulosiruptor saccharolyticus</text>
<text transform="translate(235.3,671.9) rotate(54.1)" text-anchor="end" dy="0.35em" fill="#0000ff">Bifidobacterium longum</text>
<text transform="translate(242.4,667) rotate(56.4)" text-anchor="end" dy="0.35em" fill="#0000ff">Ruminococcus</text>
<text transform="translate(249.6,662.4) rotate(58.6)" text-anchor="end" dy="0.35em" fill="#0000ff">Clostridium</text>
<text transform="translate(257,658.1) rotate(60.9)" text-anchor="end" dy="0.35em" fill="#0000ff">Paenibacillus polymyxa</text>
<text transform="translate(264.6,654) rotate(63.2)" text-anchor="end" dy="0.35em" fill="#0000ff">Clostridium licheniforme</text>
<text transform="translate(272.3,650.3) rotate(65.5)" text-anchor="end" dy="0.35em" fill="#0000ff">Bacillus subtilis</text>
<text transform="translate(280.1,646.9) rotate(67.8)" text-anchor="end" dy="0.35em" fill="#0000ff">Bacillus</text>
</g>
<g font-family="'Liberation Sans',Arial,sans-serif">
<rect x="700.5" y="544.5" width="82.5" height="415" fill="#fff" stroke="#ececf4" stroke-width="1"/>
<text x="703.6" y="555.3" font-size="9.5" font-weight="bold" fill="#111">Cazy subfamilies</text>
<path d="M702 560.5H782" stroke="#b8b8d8" stroke-width="0.8"/>
<rect x="703.5" y="564.5" width="13" height="12.7" fill="#00ffff" stroke="#666" stroke-opacity="0.55" stroke-width="0.6"/>
<text x="722.5" y="573.7" font-size="9.3" fill="#111">1</text>
<rect x="703.5" y="583.4" width="13" height="12.7" fill="#00ff00" stroke="#666" stroke-opacity="0.55" stroke-width="0.6"/>
<text x="722.5" y="592.6" font-size="9.3" fill="#111">4</text>
<rect x="703.5" y="602.3" width="13" height="12.7" fill="#ffd36e" stroke="#666" stroke-opacity="0.55" stroke-width="0.6"/>
<text x="722.5" y="611.5" font-size="9.3" fill="#111">5</text>
<rect x="703.5" y="621.2" width="13" height="12.7" fill="#808000" stroke="#666" stroke-opacity="0.55" stroke-width="0.6"/>
<text x="722.5" y="630.4" font-size="9.3" fill="#111">6</text>
<rect x="703.5" y="640.1" width="13" height="12.7" fill="#f0e68c" stroke="#666" stroke-opacity="0.55" stroke-width="0.6"/>
<text x="722.5" y="649.3" font-size="9.3" fill="#111">10</text>
<rect x="703.5" y="659" width="13" height="12.7" fill="#000000" stroke="#666" stroke-opacity="0.55" stroke-width="0.6"/>
<text x="722.5" y="668.2" font-size="9.3" fill="#111">11</text>
<rect x="703.5" y="678" width="13" height="12.7" fill="#000080" stroke="#666" stroke-opacity="0.55" stroke-width="0.6"/>
<text x="722.5" y="687.2" font-size="9.3" fill="#111">12</text>
<rect x="703.5" y="696.9" width="13" height="12.7" fill="#800055" stroke="#666" stroke-opacity="0.55" stroke-width="0.6"/>
<text x="722.5" y="706.1" font-size="9.3" fill="#111">14</text>
<rect x="703.5" y="715.8" width="13" height="12.7" fill="#008000" stroke="#666" stroke-opacity="0.55" stroke-width="0.6"/>
<text x="722.5" y="725" font-size="9.3" fill="#111">16</text>
<rect x="703.5" y="734.7" width="13" height="12.7" fill="#ebb5c0" stroke="#666" stroke-opacity="0.55" stroke-width="0.6"/>
<text x="722.5" y="743.9" font-size="9.3" fill="#111">19</text>
<rect x="703.5" y="753.6" width="13" height="12.7" fill="#ff0050" stroke="#666" stroke-opacity="0.55" stroke-width="0.6"/>
<text x="722.5" y="762.8" font-size="9.3" fill="#111">21</text>
<rect x="703.5" y="772.5" width="13" height="12.7" fill="#800080" stroke="#666" stroke-opacity="0.55" stroke-width="0.6"/>
<text x="722.5" y="781.7" font-size="9.3" fill="#111">22</text>
<rect x="703.5" y="791.4" width="13" height="12.7" fill="#ffff00" stroke="#666" stroke-opacity="0.55" stroke-width="0.6"/>
<text x="722.5" y="800.6" font-size="9.3" fill="#111">24</text>
<rect x="703.5" y="810.3" width="13" height="12.7" fill="#ff8000" stroke="#666" stroke-opacity="0.55" stroke-width="0.6"/>
<text x="722.5" y="819.5" font-size="9.3" fill="#111">26</text>
<rect x="703.5" y="829.2" width="13" height="12.7" fill="#0000ff" stroke="#666" stroke-opacity="0.55" stroke-width="0.6"/>
<text x="722.5" y="838.4" font-size="9.3" fill="#111">27</text>
<rect x="703.5" y="848.1" width="13" height="12.7" fill="#c0c0c0" stroke="#666" stroke-opacity="0.55" stroke-width="0.6"/>
<text x="722.5" y="857.4" font-size="9.3" fill="#111">29</text>
<rect x="703.5" y="867.1" width="13" height="12.7" fill="#8b6355" stroke="#666" stroke-opacity="0.55" stroke-width="0.6"/>
<text x="722.5" y="876.3" font-size="9.3" fill="#111">33</text>
<rect x="703.5" y="886" width="13" height="12.7" fill="#606060" stroke="#666" stroke-opacity="0.55" stroke-width="0.6"/>
<text x="722.5" y="895.2" font-size="9.3" fill="#111">34</text>
<rect x="703.5" y="904.9" width="13" height="12.7" fill="#004000" stroke="#666" stroke-opacity="0.55" stroke-width="0.6"/>
<text x="722.5" y="914.1" font-size="9.3" fill="#111">35</text>
<rect x="703.5" y="923.8" width="13" height="12.7" fill="#008080" stroke="#666" stroke-opacity="0.55" stroke-width="0.6"/>
<text x="722.5" y="933" font-size="9.3" fill="#111">36</text>
<rect x="703.5" y="942.7" width="13" height="12.7" fill="#f00050" stroke="#666" stroke-opacity="0.55" stroke-width="0.6"/>
<text x="722.5" y="951.9" font-size="9.3" fill="#111">37</text>
</g>
</svg>
</body></html>
